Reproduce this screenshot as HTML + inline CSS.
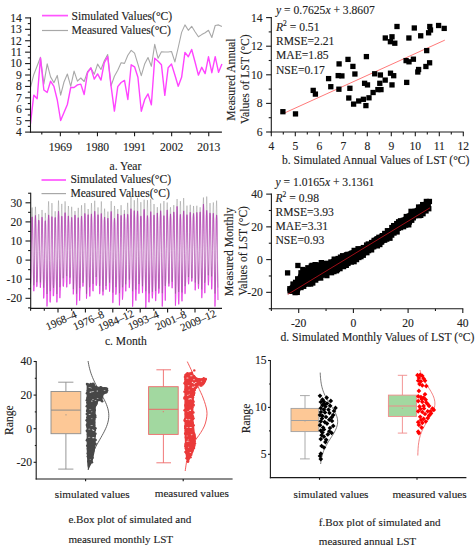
<!DOCTYPE html>
<html><head><meta charset="utf-8"><title>LST figure</title>
<style>
html,body{margin:0;padding:0;background:#fff;}
body{width:475px;height:550px;overflow:hidden;}
svg{display:block;font-family:"Liberation Serif",serif;fill:#1a1a1a;}
text{fill:#222;stroke:#222;stroke-width:0.12px;}
</style></head><body>
<svg width="475" height="550" viewBox="0 0 475 550">
<rect width="475" height="550" fill="#fff"/>
<polyline points="30.4,87.8 33.76,74.7 37.12,66 40.48,57.3 43.84,84.2 47.2,63.8 50.56,76.9 53.92,82.7 57.28,75.4 60.64,95.1 64,82 67.36,74 70.72,86.3 74.08,71.1 77.44,81.2 80.8,78 84.16,81.5 87.52,71.6 90.88,67.9 94.24,74.3 97.6,64.1 100.96,69.5 104.32,60.7 107.68,54.5 111.04,85.9 114.4,76.3 117.76,70.2 121.12,62.7 124.48,63.4 127.84,55.2 131.2,50.4 134.56,53.2 137.92,64.1 141.28,75.7 144.64,64.1 148,57.5 151.36,66.3 154.72,44.4 158.08,58.3 161.44,51.7 164.8,52 168.16,52 171.52,51.5 174.88,61.9 178.24,47.5 181.6,32.4 184.96,24.9 188.32,30.3 191.68,26.3 195.04,31.7 198.4,36.8 201.76,34.6 205.12,32.7 208.48,30.3 211.84,37.5 215.2,25.5 218.56,24.9 221.92,26.6" fill="none" stroke="#a8a8a8" stroke-width="1.1" stroke-linejoin="round"/>
<polyline points="30.4,124.1 33.76,95.1 37.12,98.7 40.48,58 43.84,90 47.2,92.4 50.56,81.2 53.92,86.3 57.28,100 60.64,120.5 64,112.5 67.36,104.5 70.72,87.5 74.08,87.5 77.44,84.9 80.8,84.1 84.16,94.5 87.52,72.9 90.88,67.9 94.24,79.1 97.6,73.9 100.96,80.1 104.32,62.7 107.68,56.6 111.04,85.9 114.4,111.1 117.76,86.6 121.12,82.5 124.48,80.4 127.84,99.5 131.2,64.8 134.56,66.8 137.92,77.2 141.28,111.3 144.64,99.7 148,93.9 151.36,104.8 154.72,58.3 158.08,61.2 161.44,64.8 164.8,95.3 168.16,67.7 171.52,64.1 174.88,75 178.24,86.2 181.6,77.3 184.96,52.4 188.32,56.7 191.68,49.5 195.04,62 198.4,75.1 201.76,67.3 205.12,73.6 208.48,56.8 211.84,72.7 215.2,56.6 218.56,72.3 221.92,63.9" fill="none" stroke="#ff44ff" stroke-width="1.4" stroke-linejoin="round"/>
<line x1="30.5" y1="17.35" x2="30.5" y2="132.65" stroke="#1a1a1a" stroke-width="1.1"/>
<line x1="29.95" y1="132.1" x2="221.9" y2="132.1" stroke="#1a1a1a" stroke-width="1.1"/>
<line x1="25.1" y1="132.1" x2="30.5" y2="132.1" stroke="#1a1a1a" stroke-width="1.1"/>
<text x="21.9" y="136" font-size="11.6" text-anchor="end">4</text>
<line x1="27.8" y1="126.39" x2="30.5" y2="126.39" stroke="#1a1a1a" stroke-width="1.1"/>
<line x1="25.1" y1="120.68" x2="30.5" y2="120.68" stroke="#1a1a1a" stroke-width="1.1"/>
<text x="21.9" y="124.58" font-size="11.6" text-anchor="end">5</text>
<line x1="27.8" y1="114.97" x2="30.5" y2="114.97" stroke="#1a1a1a" stroke-width="1.1"/>
<line x1="25.1" y1="109.26" x2="30.5" y2="109.26" stroke="#1a1a1a" stroke-width="1.1"/>
<text x="21.9" y="113.16" font-size="11.6" text-anchor="end">6</text>
<line x1="27.8" y1="103.55" x2="30.5" y2="103.55" stroke="#1a1a1a" stroke-width="1.1"/>
<line x1="25.1" y1="97.84" x2="30.5" y2="97.84" stroke="#1a1a1a" stroke-width="1.1"/>
<text x="21.9" y="101.74" font-size="11.6" text-anchor="end">7</text>
<line x1="27.8" y1="92.13" x2="30.5" y2="92.13" stroke="#1a1a1a" stroke-width="1.1"/>
<line x1="25.1" y1="86.42" x2="30.5" y2="86.42" stroke="#1a1a1a" stroke-width="1.1"/>
<text x="21.9" y="90.32" font-size="11.6" text-anchor="end">8</text>
<line x1="27.8" y1="80.71" x2="30.5" y2="80.71" stroke="#1a1a1a" stroke-width="1.1"/>
<line x1="25.1" y1="75" x2="30.5" y2="75" stroke="#1a1a1a" stroke-width="1.1"/>
<text x="21.9" y="78.9" font-size="11.6" text-anchor="end">9</text>
<line x1="27.8" y1="69.29" x2="30.5" y2="69.29" stroke="#1a1a1a" stroke-width="1.1"/>
<line x1="25.1" y1="63.58" x2="30.5" y2="63.58" stroke="#1a1a1a" stroke-width="1.1"/>
<text x="21.9" y="67.48" font-size="11.6" text-anchor="end">10</text>
<line x1="27.8" y1="57.87" x2="30.5" y2="57.87" stroke="#1a1a1a" stroke-width="1.1"/>
<line x1="25.1" y1="52.16" x2="30.5" y2="52.16" stroke="#1a1a1a" stroke-width="1.1"/>
<text x="21.9" y="56.06" font-size="11.6" text-anchor="end">11</text>
<line x1="27.8" y1="46.45" x2="30.5" y2="46.45" stroke="#1a1a1a" stroke-width="1.1"/>
<line x1="25.1" y1="40.74" x2="30.5" y2="40.74" stroke="#1a1a1a" stroke-width="1.1"/>
<text x="21.9" y="44.64" font-size="11.6" text-anchor="end">12</text>
<line x1="27.8" y1="35.03" x2="30.5" y2="35.03" stroke="#1a1a1a" stroke-width="1.1"/>
<line x1="25.1" y1="29.32" x2="30.5" y2="29.32" stroke="#1a1a1a" stroke-width="1.1"/>
<text x="21.9" y="33.22" font-size="11.6" text-anchor="end">13</text>
<line x1="27.8" y1="23.61" x2="30.5" y2="23.61" stroke="#1a1a1a" stroke-width="1.1"/>
<line x1="25.1" y1="17.9" x2="30.5" y2="17.9" stroke="#1a1a1a" stroke-width="1.1"/>
<text x="21.9" y="21.8" font-size="11.6" text-anchor="end">14</text>
<line x1="41.8" y1="132.1" x2="41.8" y2="134.5" stroke="#1a1a1a" stroke-width="1.1"/>
<line x1="60.35" y1="132.1" x2="60.35" y2="136.3" stroke="#1a1a1a" stroke-width="1.1"/>
<line x1="78.9" y1="132.1" x2="78.9" y2="134.5" stroke="#1a1a1a" stroke-width="1.1"/>
<line x1="97.45" y1="132.1" x2="97.45" y2="136.3" stroke="#1a1a1a" stroke-width="1.1"/>
<line x1="116" y1="132.1" x2="116" y2="134.5" stroke="#1a1a1a" stroke-width="1.1"/>
<line x1="134.55" y1="132.1" x2="134.55" y2="136.3" stroke="#1a1a1a" stroke-width="1.1"/>
<line x1="153.1" y1="132.1" x2="153.1" y2="134.5" stroke="#1a1a1a" stroke-width="1.1"/>
<line x1="171.65" y1="132.1" x2="171.65" y2="136.3" stroke="#1a1a1a" stroke-width="1.1"/>
<line x1="190.2" y1="132.1" x2="190.2" y2="134.5" stroke="#1a1a1a" stroke-width="1.1"/>
<line x1="208.75" y1="132.1" x2="208.75" y2="136.3" stroke="#1a1a1a" stroke-width="1.1"/>
<text x="60.35" y="151" font-size="11.6" text-anchor="middle">1969</text>
<text x="97.45" y="151" font-size="11.6" text-anchor="middle">1980</text>
<text x="134.55" y="151" font-size="11.6" text-anchor="middle">1991</text>
<text x="171.65" y="151" font-size="11.6" text-anchor="middle">2002</text>
<text x="208.75" y="151" font-size="11.6" text-anchor="middle">2013</text>
<text x="109.5" y="169.8" font-size="11.6" text-anchor="start">a. Year</text>
<line x1="42" y1="15.6" x2="68" y2="15.6" stroke="#ff55ff" stroke-width="1.7"/>
<line x1="42" y1="30.5" x2="68" y2="30.5" stroke="#a8a8a8" stroke-width="1.2"/>
<text x="71.5" y="19.8" font-size="11.6" text-anchor="start">Simulated Values(&#176;C)</text>
<text x="71.5" y="34.3" font-size="11.6" text-anchor="start">Measured Values(&#176;C)</text>
<line x1="283.3" y1="113.53" x2="444.82" y2="40.14" stroke="#ff6a6a" stroke-width="0.9"/>
<rect x="280.25" y="109.05" width="5.3" height="5.3" fill="#000"/>
<rect x="292.85" y="111.25" width="5.3" height="5.3" fill="#000"/>
<rect x="310.55" y="87.75" width="5.3" height="5.3" fill="#000"/>
<rect x="312.75" y="91.45" width="5.3" height="5.3" fill="#000"/>
<rect x="325.95" y="75.95" width="5.3" height="5.3" fill="#000"/>
<rect x="328.15" y="84.05" width="5.3" height="5.3" fill="#000"/>
<rect x="335.55" y="72.95" width="5.3" height="5.3" fill="#000"/>
<rect x="339.25" y="73.25" width="5.3" height="5.3" fill="#000"/>
<rect x="336.25" y="86.55" width="5.3" height="5.3" fill="#000"/>
<rect x="336.45" y="61.25" width="5.3" height="5.3" fill="#000"/>
<rect x="345.35" y="56.75" width="5.3" height="5.3" fill="#000"/>
<rect x="350.25" y="63.75" width="5.3" height="5.3" fill="#000"/>
<rect x="363.75" y="53.95" width="5.3" height="5.3" fill="#000"/>
<rect x="352.25" y="71.35" width="5.3" height="5.3" fill="#000"/>
<rect x="347.25" y="85.65" width="5.3" height="5.3" fill="#000"/>
<rect x="346.15" y="95.35" width="5.3" height="5.3" fill="#000"/>
<rect x="350.95" y="101.45" width="5.3" height="5.3" fill="#000"/>
<rect x="356.05" y="98.35" width="5.3" height="5.3" fill="#000"/>
<rect x="360.75" y="96.65" width="5.3" height="5.3" fill="#000"/>
<rect x="363.25" y="102.95" width="5.3" height="5.3" fill="#000"/>
<rect x="366.35" y="95.15" width="5.3" height="5.3" fill="#000"/>
<rect x="370.45" y="89.85" width="5.3" height="5.3" fill="#000"/>
<rect x="375.25" y="86.95" width="5.3" height="5.3" fill="#000"/>
<rect x="378.35" y="86.95" width="5.3" height="5.3" fill="#000"/>
<rect x="361.95" y="80.65" width="5.3" height="5.3" fill="#000"/>
<rect x="364.85" y="82.25" width="5.3" height="5.3" fill="#000"/>
<rect x="372.05" y="71.15" width="5.3" height="5.3" fill="#000"/>
<rect x="377.75" y="72.35" width="5.3" height="5.3" fill="#000"/>
<rect x="382.55" y="77.45" width="5.3" height="5.3" fill="#000"/>
<rect x="377.15" y="80.65" width="5.3" height="5.3" fill="#000"/>
<rect x="387.85" y="70.55" width="5.3" height="5.3" fill="#000"/>
<rect x="391.05" y="73.05" width="5.3" height="5.3" fill="#000"/>
<rect x="389.35" y="82.25" width="5.3" height="5.3" fill="#000"/>
<rect x="404.05" y="79.75" width="5.3" height="5.3" fill="#000"/>
<rect x="415.15" y="69.35" width="5.3" height="5.3" fill="#000"/>
<rect x="415.95" y="66.85" width="5.3" height="5.3" fill="#000"/>
<rect x="423.25" y="63.85" width="5.3" height="5.3" fill="#000"/>
<rect x="426.95" y="60.15" width="5.3" height="5.3" fill="#000"/>
<rect x="424.05" y="47.95" width="5.3" height="5.3" fill="#000"/>
<rect x="403.45" y="57.95" width="5.3" height="5.3" fill="#000"/>
<rect x="406.35" y="59.15" width="5.3" height="5.3" fill="#000"/>
<rect x="410.75" y="56.55" width="5.3" height="5.3" fill="#000"/>
<rect x="394.35" y="23.85" width="5.3" height="5.3" fill="#000"/>
<rect x="382.65" y="35.35" width="5.3" height="5.3" fill="#000"/>
<rect x="389.35" y="34.15" width="5.3" height="5.3" fill="#000"/>
<rect x="387.75" y="39.05" width="5.3" height="5.3" fill="#000"/>
<rect x="392.15" y="40.55" width="5.3" height="5.3" fill="#000"/>
<rect x="411.65" y="25.35" width="5.3" height="5.3" fill="#000"/>
<rect x="406.25" y="35.35" width="5.3" height="5.3" fill="#000"/>
<rect x="418.05" y="33.15" width="5.3" height="5.3" fill="#000"/>
<rect x="427.15" y="23.85" width="5.3" height="5.3" fill="#000"/>
<rect x="425.95" y="30.15" width="5.3" height="5.3" fill="#000"/>
<rect x="427.85" y="27.35" width="5.3" height="5.3" fill="#000"/>
<rect x="435.95" y="22.85" width="5.3" height="5.3" fill="#000"/>
<rect x="441.55" y="25.75" width="5.3" height="5.3" fill="#000"/>
<line x1="271.3" y1="17.05" x2="271.3" y2="132.55" stroke="#1a1a1a" stroke-width="1.1"/>
<line x1="270.75" y1="132" x2="463.8" y2="132" stroke="#1a1a1a" stroke-width="1.1"/>
<line x1="266.1" y1="132" x2="271.3" y2="132" stroke="#1a1a1a" stroke-width="1.1"/>
<text x="262.6" y="135.9" font-size="11.6" text-anchor="end">6</text>
<line x1="268.7" y1="117.7" x2="271.3" y2="117.7" stroke="#1a1a1a" stroke-width="1.1"/>
<line x1="266.1" y1="103.4" x2="271.3" y2="103.4" stroke="#1a1a1a" stroke-width="1.1"/>
<text x="262.6" y="107.3" font-size="11.6" text-anchor="end">8</text>
<line x1="268.7" y1="89.1" x2="271.3" y2="89.1" stroke="#1a1a1a" stroke-width="1.1"/>
<line x1="266.1" y1="74.8" x2="271.3" y2="74.8" stroke="#1a1a1a" stroke-width="1.1"/>
<text x="262.6" y="78.7" font-size="11.6" text-anchor="end">10</text>
<line x1="268.7" y1="60.5" x2="271.3" y2="60.5" stroke="#1a1a1a" stroke-width="1.1"/>
<line x1="266.1" y1="46.2" x2="271.3" y2="46.2" stroke="#1a1a1a" stroke-width="1.1"/>
<text x="262.6" y="50.1" font-size="11.6" text-anchor="end">12</text>
<line x1="268.7" y1="31.9" x2="271.3" y2="31.9" stroke="#1a1a1a" stroke-width="1.1"/>
<line x1="266.1" y1="17.6" x2="271.3" y2="17.6" stroke="#1a1a1a" stroke-width="1.1"/>
<text x="262.6" y="21.5" font-size="11.6" text-anchor="end">14</text>
<line x1="271.3" y1="132" x2="271.3" y2="136.2" stroke="#1a1a1a" stroke-width="1.1"/>
<text x="271.3" y="150.3" font-size="11.6" text-anchor="middle">4</text>
<line x1="283.3" y1="132" x2="283.3" y2="134.4" stroke="#1a1a1a" stroke-width="1.1"/>
<line x1="295.3" y1="132" x2="295.3" y2="136.2" stroke="#1a1a1a" stroke-width="1.1"/>
<text x="295.3" y="150.3" font-size="11.6" text-anchor="middle">5</text>
<line x1="307.3" y1="132" x2="307.3" y2="134.4" stroke="#1a1a1a" stroke-width="1.1"/>
<line x1="319.3" y1="132" x2="319.3" y2="136.2" stroke="#1a1a1a" stroke-width="1.1"/>
<text x="319.3" y="150.3" font-size="11.6" text-anchor="middle">6</text>
<line x1="331.3" y1="132" x2="331.3" y2="134.4" stroke="#1a1a1a" stroke-width="1.1"/>
<line x1="343.3" y1="132" x2="343.3" y2="136.2" stroke="#1a1a1a" stroke-width="1.1"/>
<text x="343.3" y="150.3" font-size="11.6" text-anchor="middle">7</text>
<line x1="355.3" y1="132" x2="355.3" y2="134.4" stroke="#1a1a1a" stroke-width="1.1"/>
<line x1="367.3" y1="132" x2="367.3" y2="136.2" stroke="#1a1a1a" stroke-width="1.1"/>
<text x="367.3" y="150.3" font-size="11.6" text-anchor="middle">8</text>
<line x1="379.3" y1="132" x2="379.3" y2="134.4" stroke="#1a1a1a" stroke-width="1.1"/>
<line x1="391.3" y1="132" x2="391.3" y2="136.2" stroke="#1a1a1a" stroke-width="1.1"/>
<text x="391.3" y="150.3" font-size="11.6" text-anchor="middle">9</text>
<line x1="403.3" y1="132" x2="403.3" y2="134.4" stroke="#1a1a1a" stroke-width="1.1"/>
<line x1="415.3" y1="132" x2="415.3" y2="136.2" stroke="#1a1a1a" stroke-width="1.1"/>
<text x="415.3" y="150.3" font-size="11.6" text-anchor="middle">10</text>
<line x1="427.3" y1="132" x2="427.3" y2="134.4" stroke="#1a1a1a" stroke-width="1.1"/>
<line x1="439.3" y1="132" x2="439.3" y2="136.2" stroke="#1a1a1a" stroke-width="1.1"/>
<text x="439.3" y="150.3" font-size="11.6" text-anchor="middle">11</text>
<line x1="451.3" y1="132" x2="451.3" y2="134.4" stroke="#1a1a1a" stroke-width="1.1"/>
<line x1="463.3" y1="132" x2="463.3" y2="136.2" stroke="#1a1a1a" stroke-width="1.1"/>
<text x="463.3" y="150.3" font-size="11.6" text-anchor="middle">12</text>
<text x="282" y="163.6" font-size="11.6" text-anchor="start">b. Simulated Annual Values of LST (&#176;C)</text>
<text transform="translate(234.6,79.7) rotate(-90)" font-size="11.6" text-anchor="middle">Measured Annual</text>
<text transform="translate(249.0,79.2) rotate(-90)" font-size="11.6" text-anchor="middle">Values of LST (&#176;C)</text>
<text x="276" y="14.3" font-size="11.6"><tspan font-style="italic">y</tspan> = 0.7625<tspan font-style="italic">x</tspan> + 3.8607</text>
<text x="276" y="30.8" font-size="11.6"><tspan font-style="italic">R</tspan><tspan font-size="7.5" dy="-4.5">2</tspan><tspan dy="4.5"> = 0.51</tspan></text>
<text x="276" y="44.6" font-size="11.6">RMSE=2.21</text>
<text x="276" y="59.2" font-size="11.6">MAE=1.85</text>
<text x="276" y="73.6" font-size="11.6">NSE=0.17</text>
<linearGradient id="cgrad" gradientUnits="userSpaceOnUse" x1="0" y1="205" x2="0" y2="305"><stop offset="0" stop-color="#c828c8" stop-opacity="0.5"/><stop offset="0.12" stop-color="#c828c8" stop-opacity="0.55"/><stop offset="0.3" stop-color="#c828c8" stop-opacity="0.25"/><stop offset="0.45" stop-color="#c828c8" stop-opacity="0"/><stop offset="0.55" stop-color="#c828c8" stop-opacity="0.05"/><stop offset="0.72" stop-color="#c828c8" stop-opacity="0.45"/><stop offset="0.85" stop-color="#e020e0" stop-opacity="0.5"/><stop offset="1" stop-color="#e020e0" stop-opacity="0.4"/></linearGradient>
<polyline points="30.5,283.81 30.77,278.07 31.05,267.75 31.32,251.42 31.6,233.23 31.87,220.39 32.15,217.01 32.42,222.91 32.7,233.74 32.97,251.11 33.24,267.94 33.52,278.65 33.79,291.05 34.07,286.47 34.34,274.25 34.62,255.45 34.89,235.1 35.17,221.03 35.44,215.63 35.72,223.61 35.99,234.66 36.26,253.33 36.54,274.99 36.81,286.66 37.09,283.15 37.36,276.83 37.64,266.1 37.91,251.58 38.19,236.11 38.46,224.7 38.73,220.21 39.01,222.08 39.28,235.58 39.56,251.52 39.83,265.2 40.11,278.96 40.38,287.57 40.66,282.57 40.93,269.77 41.21,251.03 41.48,235.26 41.75,224.05 42.03,217.29 42.3,223.85 42.58,234.76 42.85,253.36 43.13,268.21 43.4,282.02 43.68,298.27 43.95,294.26 44.23,280.1 44.5,258.81 44.77,238.86 45.05,223.45 45.32,220.9 45.6,224.89 45.87,240.2 46.15,258.77 46.42,279.2 46.7,291.8 46.97,306.3 47.24,301.13 47.52,284.01 47.79,260.19 48.07,238.58 48.34,220.66 48.62,215.1 48.89,220.61 49.17,238.15 49.44,260.58 49.72,283.83 49.99,301.33 50.26,302.27 50.54,296.51 50.81,281.74 51.09,261.42 51.36,240.18 51.64,223.13 51.91,216.73 52.19,222.73 52.46,239.49 52.73,260.76 53.01,282.47 53.28,295.99 53.56,295.6 53.83,290.04 54.11,276.38 54.38,257.84 54.66,235.79 54.93,221.61 55.2,217.6 55.48,222.41 55.75,237.7 56.03,256.34 56.3,277.2 56.58,289.73 56.85,302.19 57.13,298.07 57.4,281.69 57.68,258.2 57.95,235.94 58.22,218 58.5,211.24 58.77,216.43 59.05,235.47 59.32,258.38 59.6,280.32 59.87,297.94 60.15,291.21 60.42,288.35 60.7,272.72 60.97,254.83 61.24,234.73 61.52,222.08 61.79,216.37 62.07,222.4 62.34,236.88 62.62,253.72 62.89,272.73 63.17,285.87 63.44,286.37 63.71,281.25 63.99,267.03 64.26,251.24 64.54,233.08 64.81,219.53 65.09,212.81 65.36,219.6 65.64,231.06 65.91,249.22 66.19,267.87 66.46,282.33 66.73,287.14 67.01,282.92 67.28,268.29 67.56,250.64 67.83,233.83 68.11,221.78 68.38,216.09 68.66,222.31 68.93,233.86 69.2,250.79 69.48,269.55 69.75,283.88 70.03,283.07 70.3,277.2 70.58,266.87 70.85,249.39 71.13,234.32 71.4,222.53 71.68,217.47 71.95,221.61 72.22,232.83 72.5,249.04 72.77,266.28 73.05,279.35 73.32,294.15 73.6,289.23 73.87,274.68 74.15,256.3 74.42,235 74.69,222.21 74.97,215.13 75.24,220.13 75.52,237.07 75.79,254.79 76.07,276.25 76.34,289.56 76.62,304.88 76.89,300.38 77.17,284.24 77.44,263.13 77.71,241.32 77.99,223.81 78.26,217.84 78.54,224.93 78.81,239.08 79.09,260.88 79.36,285.59 79.64,300.52 79.91,291.61 80.18,288.14 80.46,272.65 80.73,255.47 81.01,235.65 81.28,220.7 81.56,216.22 81.83,221.5 82.11,235.39 82.38,253.06 82.66,274.12 82.93,286.42 83.2,282.67 83.48,278.15 83.75,266.61 84.03,250.27 84.3,230.99 84.58,219.53 84.85,213.55 85.13,218.22 85.4,231.31 85.67,247.24 85.95,265.51 86.22,277.36 86.5,298.53 86.77,293.34 87.05,277.23 87.32,255.18 87.6,234.33 87.87,219.69 88.15,214.78 88.42,222.03 88.69,236.88 88.97,257.62 89.24,277.04 89.52,291.22 89.79,296.31 90.07,290.9 90.34,276.39 90.62,256.61 90.89,235.86 91.16,220.09 91.44,213.98 91.71,222.15 91.99,235.74 92.26,254.12 92.54,275.54 92.81,289.6 93.09,291.1 93.36,284.93 93.64,271.04 93.91,251.68 94.18,231.96 94.46,217.21 94.73,211.36 95.01,217.35 95.28,233.39 95.56,250.67 95.83,271.3 96.11,284.45 96.38,285.49 96.65,283.36 96.93,269.51 97.2,250.47 97.48,232.77 97.75,221.01 98.03,214.78 98.3,220.14 98.58,233.78 98.85,250.1 99.12,270.11 99.4,281.01 99.67,293.83 99.95,289.45 100.22,273.44 100.5,254.31 100.77,235.21 101.05,220.55 101.32,213.67 101.6,218.69 101.87,233.14 102.14,254.96 102.42,275.47 102.69,288.23 102.97,295.19 103.24,289.23 103.52,274.73 103.79,255.22 104.07,236.87 104.34,220.46 104.62,217.24 104.89,222.2 105.16,236.63 105.44,257.08 105.71,275.08 105.99,289.49 106.26,283.7 106.54,277.94 106.81,266.19 107.09,250.26 107.36,234.96 107.63,220.73 107.91,218.24 108.18,222.54 108.46,233.23 108.73,251.26 109.01,267.06 109.28,279.68 109.56,291.45 109.83,286.34 110.11,271.58 110.38,251.59 110.65,231.15 110.93,217.8 111.2,211.57 111.48,218.12 111.75,231.82 112.03,252.99 112.3,273.56 112.58,287.98 112.85,302.74 113.12,295.52 113.4,281.83 113.67,260.39 113.95,239.24 114.22,222.78 114.5,218.41 114.77,224.07 115.05,239.01 115.32,258.45 115.6,281.14 115.87,294.51 116.14,292.05 116.42,287.64 116.69,274.08 116.97,253.33 117.24,235.73 117.52,220.29 117.79,214 118.07,220.95 118.34,234.78 118.61,252.68 118.89,272.97 119.16,288.44 119.44,305.27 119.71,297.49 119.99,282.25 120.26,258.99 120.54,237.48 120.81,221.72 121.09,215.49 121.36,221.61 121.63,238.44 121.91,261.43 122.18,282.77 122.46,299.45 122.73,295.9 123.01,289.36 123.28,277.06 123.56,254.71 123.83,234.94 124.1,221.83 124.38,214 124.65,219.98 124.93,235.51 125.2,255.97 125.48,275.9 125.75,291.11 126.03,281.37 126.3,278.85 126.58,264.58 126.85,248.85 127.12,229.59 127.4,219.24 127.67,214.41 127.95,218.27 128.22,229.33 128.5,247.83 128.77,264.3 129.05,278.1 129.32,287.66 129.59,283.26 129.87,267.95 130.14,249.22 130.42,228.39 130.69,214.6 130.97,208.88 131.24,214.79 131.52,229.27 131.79,248.19 132.06,268.37 132.34,281.72 132.61,306.5 132.89,300.11 133.16,283.64 133.44,260.11 133.71,235.37 133.99,218.12 134.26,210.76 134.54,217.33 134.81,236.65 135.08,259.64 135.36,283.28 135.63,298.68 135.91,300.49 136.18,293.17 136.46,277.19 136.73,256.52 137.01,232.7 137.28,216.53 137.56,211.17 137.83,216.91 138.1,233.12 138.38,256.45 138.65,278.56 138.93,293.59 139.2,286.72 139.48,282.23 139.75,270.07 140.03,250.27 140.3,233.07 140.57,218.47 140.85,216.15 141.12,218.48 141.4,232.85 141.67,252.1 141.95,271.18 142.22,283.47 142.5,292.78 142.77,285.11 143.05,270.55 143.32,250.38 143.59,230.07 143.87,213.7 144.14,209.53 144.42,215.06 144.69,227.84 144.97,250.92 145.24,271.59 145.52,285.16 145.79,307.62 146.06,299.93 146.34,285.28 146.61,259.86 146.89,238.85 147.16,221.36 147.44,215.69 147.71,219.4 147.99,237.51 148.26,259.99 148.54,285.58 148.81,301.96 149.08,302.23 149.36,295.57 149.63,279.63 149.91,257.27 150.18,233.33 150.46,217.44 150.73,211.71 151.01,218.55 151.28,233.71 151.55,256.03 151.83,277.22 152.1,294.89 152.38,298.16 152.65,292.86 152.93,277.1 153.2,255.77 153.48,238.15 153.75,221.12 154.03,215.15 154.3,222.87 154.57,236.28 154.85,256.5 155.12,277.19 155.4,291.02 155.67,300.85 155.95,293.43 156.22,277.58 156.5,256.92 156.77,235.07 157.04,220.94 157.32,213.08 157.59,218.38 157.87,236.38 158.14,256.9 158.42,278.65 158.69,293.35 158.97,292.16 159.24,286.78 159.52,271.48 159.79,251.27 160.06,230.54 160.34,217.62 160.61,210.92 160.89,215.99 161.16,231.8 161.44,252.41 161.71,272.96 161.99,285.42 162.26,306.34 162.53,300.19 162.81,284.84 163.08,260.02 163.36,239.06 163.63,221.54 163.91,215.76 164.18,222.11 164.46,236.76 164.73,262.23 165.01,282.96 165.28,300.44 165.55,284.08 165.83,279.75 166.1,266.64 166.38,248.67 166.65,230.48 166.93,216.98 167.2,210.06 167.48,215.29 167.75,229.96 168.02,247.06 168.3,266.37 168.57,279.85 168.85,286.3 169.12,281.9 169.4,268.01 169.67,251.41 169.95,233.75 170.22,219.55 170.5,214.03 170.77,219.34 171.04,233.88 171.32,250.57 171.59,269.82 171.87,282.58 172.14,288.07 172.42,282.66 172.69,267.5 172.97,250.47 173.24,231.92 173.51,218.75 173.79,212.06 174.06,215.84 174.34,230.53 174.61,250.7 174.89,268.11 175.16,281.24 175.44,305.59 175.71,298.67 175.99,281.49 176.26,256.82 176.53,232.06 176.81,214.75 177.08,206.52 177.36,213.07 177.63,231.91 177.91,257.36 178.18,281.83 178.46,298.11 178.73,304.22 179,298.47 179.28,280.81 179.55,259.26 179.83,235.17 180.1,219.79 180.38,214.47 180.65,220.86 180.93,235.36 181.2,257.59 181.48,282.28 181.75,298.09 182.02,301.14 182.3,293.97 182.57,277.36 182.85,254.91 183.12,232.59 183.4,215.04 183.67,210.97 183.95,217.04 184.22,232.18 184.49,253.64 184.77,278.38 185.04,293.68 185.32,287.4 185.59,281.93 185.87,269.93 186.14,251.54 186.42,233.23 186.69,217.84 186.97,214.81 187.24,217.54 187.51,232.8 187.79,249.41 188.06,267.93 188.34,281.31 188.61,284.08 188.89,278.96 189.16,268.15 189.44,248.78 189.71,232.56 189.98,218.37 190.26,212.45 190.53,218.06 190.81,231.19 191.08,247.98 191.36,268.39 191.63,281.14 191.91,281.13 192.18,277.14 192.46,263.54 192.73,248.32 193,230.5 193.28,217.09 193.55,213.47 193.83,217.64 194.1,231.85 194.38,246.33 194.65,264.49 194.93,277.29 195.2,290.11 195.47,285.89 195.75,269.18 196.02,252.35 196.3,231.79 196.57,218.51 196.85,212.47 197.12,216.66 197.4,233.09 197.67,250.58 197.95,271.06 198.22,283.41 198.49,288.58 198.77,282.86 199.04,269.39 199.32,251.71 199.59,230.21 199.87,217.91 200.14,212.12 200.42,218.3 200.69,230.61 200.96,248.73 201.24,267.44 201.51,281.8 201.79,297.87 202.06,292.07 202.34,275.87 202.61,252.11 202.89,228.45 203.16,211.53 203.44,204.18 203.71,211.63 203.98,229.03 204.26,251.78 204.53,275.19 204.81,293.04 205.08,282.36 205.36,277.49 205.63,265.67 205.91,247.92 206.18,227.93 206.45,215.5 206.73,210.45 207,216.04 207.28,228.85 207.55,247.81 207.83,264.21 208.1,278.51 208.38,285.08 208.65,280.78 208.93,266.42 209.2,249.88 209.47,230.41 209.75,216.64 210.02,213.12 210.3,215.43 210.57,230.82 210.85,246.95 211.12,265.52 211.4,278.46 211.67,289.11 211.94,285.43 212.22,269.67 212.49,250.54 212.77,232.54 213.04,219.79 213.32,213.38 213.59,218.69 213.87,232.68 214.14,250.57 214.42,269.49 214.69,282.86 214.96,306.38 215.24,299.45 215.51,282.09 215.79,261 216.06,237.84 216.34,219.13 216.61,215.11 216.89,220.49 217.16,237.43 217.43,259.3 217.71,282.14 217.98,300.09" fill="none" stroke="#e030e0" stroke-width="0.55" stroke-linejoin="round"/>
<polyline points="30.5,283.81 30.77,278.07 31.05,267.75 31.32,251.42 31.6,233.23 31.87,220.39 32.15,217.01 32.42,222.91 32.7,233.74 32.97,251.11 33.24,267.94 33.52,278.65 33.79,291.05 34.07,286.47 34.34,274.25 34.62,255.45 34.89,235.1 35.17,221.03 35.44,215.63 35.72,223.61 35.99,234.66 36.26,253.33 36.54,274.99 36.81,286.66 37.09,283.15 37.36,276.83 37.64,266.1 37.91,251.58 38.19,236.11 38.46,224.7 38.73,220.21 39.01,222.08 39.28,235.58 39.56,251.52 39.83,265.2 40.11,278.96 40.38,287.57 40.66,282.57 40.93,269.77 41.21,251.03 41.48,235.26 41.75,224.05 42.03,217.29 42.3,223.85 42.58,234.76 42.85,253.36 43.13,268.21 43.4,282.02 43.68,298.27 43.95,294.26 44.23,280.1 44.5,258.81 44.77,238.86 45.05,223.45 45.32,220.9 45.6,224.89 45.87,240.2 46.15,258.77 46.42,279.2 46.7,291.8 46.97,306.3 47.24,301.13 47.52,284.01 47.79,260.19 48.07,238.58 48.34,220.66 48.62,215.1 48.89,220.61 49.17,238.15 49.44,260.58 49.72,283.83 49.99,301.33 50.26,302.27 50.54,296.51 50.81,281.74 51.09,261.42 51.36,240.18 51.64,223.13 51.91,216.73 52.19,222.73 52.46,239.49 52.73,260.76 53.01,282.47 53.28,295.99 53.56,295.6 53.83,290.04 54.11,276.38 54.38,257.84 54.66,235.79 54.93,221.61 55.2,217.6 55.48,222.41 55.75,237.7 56.03,256.34 56.3,277.2 56.58,289.73 56.85,302.19 57.13,298.07 57.4,281.69 57.68,258.2 57.95,235.94 58.22,218 58.5,211.24 58.77,216.43 59.05,235.47 59.32,258.38 59.6,280.32 59.87,297.94 60.15,291.21 60.42,288.35 60.7,272.72 60.97,254.83 61.24,234.73 61.52,222.08 61.79,216.37 62.07,222.4 62.34,236.88 62.62,253.72 62.89,272.73 63.17,285.87 63.44,286.37 63.71,281.25 63.99,267.03 64.26,251.24 64.54,233.08 64.81,219.53 65.09,212.81 65.36,219.6 65.64,231.06 65.91,249.22 66.19,267.87 66.46,282.33 66.73,287.14 67.01,282.92 67.28,268.29 67.56,250.64 67.83,233.83 68.11,221.78 68.38,216.09 68.66,222.31 68.93,233.86 69.2,250.79 69.48,269.55 69.75,283.88 70.03,283.07 70.3,277.2 70.58,266.87 70.85,249.39 71.13,234.32 71.4,222.53 71.68,217.47 71.95,221.61 72.22,232.83 72.5,249.04 72.77,266.28 73.05,279.35 73.32,294.15 73.6,289.23 73.87,274.68 74.15,256.3 74.42,235 74.69,222.21 74.97,215.13 75.24,220.13 75.52,237.07 75.79,254.79 76.07,276.25 76.34,289.56 76.62,304.88 76.89,300.38 77.17,284.24 77.44,263.13 77.71,241.32 77.99,223.81 78.26,217.84 78.54,224.93 78.81,239.08 79.09,260.88 79.36,285.59 79.64,300.52 79.91,291.61 80.18,288.14 80.46,272.65 80.73,255.47 81.01,235.65 81.28,220.7 81.56,216.22 81.83,221.5 82.11,235.39 82.38,253.06 82.66,274.12 82.93,286.42 83.2,282.67 83.48,278.15 83.75,266.61 84.03,250.27 84.3,230.99 84.58,219.53 84.85,213.55 85.13,218.22 85.4,231.31 85.67,247.24 85.95,265.51 86.22,277.36 86.5,298.53 86.77,293.34 87.05,277.23 87.32,255.18 87.6,234.33 87.87,219.69 88.15,214.78 88.42,222.03 88.69,236.88 88.97,257.62 89.24,277.04 89.52,291.22 89.79,296.31 90.07,290.9 90.34,276.39 90.62,256.61 90.89,235.86 91.16,220.09 91.44,213.98 91.71,222.15 91.99,235.74 92.26,254.12 92.54,275.54 92.81,289.6 93.09,291.1 93.36,284.93 93.64,271.04 93.91,251.68 94.18,231.96 94.46,217.21 94.73,211.36 95.01,217.35 95.28,233.39 95.56,250.67 95.83,271.3 96.11,284.45 96.38,285.49 96.65,283.36 96.93,269.51 97.2,250.47 97.48,232.77 97.75,221.01 98.03,214.78 98.3,220.14 98.58,233.78 98.85,250.1 99.12,270.11 99.4,281.01 99.67,293.83 99.95,289.45 100.22,273.44 100.5,254.31 100.77,235.21 101.05,220.55 101.32,213.67 101.6,218.69 101.87,233.14 102.14,254.96 102.42,275.47 102.69,288.23 102.97,295.19 103.24,289.23 103.52,274.73 103.79,255.22 104.07,236.87 104.34,220.46 104.62,217.24 104.89,222.2 105.16,236.63 105.44,257.08 105.71,275.08 105.99,289.49 106.26,283.7 106.54,277.94 106.81,266.19 107.09,250.26 107.36,234.96 107.63,220.73 107.91,218.24 108.18,222.54 108.46,233.23 108.73,251.26 109.01,267.06 109.28,279.68 109.56,291.45 109.83,286.34 110.11,271.58 110.38,251.59 110.65,231.15 110.93,217.8 111.2,211.57 111.48,218.12 111.75,231.82 112.03,252.99 112.3,273.56 112.58,287.98 112.85,302.74 113.12,295.52 113.4,281.83 113.67,260.39 113.95,239.24 114.22,222.78 114.5,218.41 114.77,224.07 115.05,239.01 115.32,258.45 115.6,281.14 115.87,294.51 116.14,292.05 116.42,287.64 116.69,274.08 116.97,253.33 117.24,235.73 117.52,220.29 117.79,214 118.07,220.95 118.34,234.78 118.61,252.68 118.89,272.97 119.16,288.44 119.44,305.27 119.71,297.49 119.99,282.25 120.26,258.99 120.54,237.48 120.81,221.72 121.09,215.49 121.36,221.61 121.63,238.44 121.91,261.43 122.18,282.77 122.46,299.45 122.73,295.9 123.01,289.36 123.28,277.06 123.56,254.71 123.83,234.94 124.1,221.83 124.38,214 124.65,219.98 124.93,235.51 125.2,255.97 125.48,275.9 125.75,291.11 126.03,281.37 126.3,278.85 126.58,264.58 126.85,248.85 127.12,229.59 127.4,219.24 127.67,214.41 127.95,218.27 128.22,229.33 128.5,247.83 128.77,264.3 129.05,278.1 129.32,287.66 129.59,283.26 129.87,267.95 130.14,249.22 130.42,228.39 130.69,214.6 130.97,208.88 131.24,214.79 131.52,229.27 131.79,248.19 132.06,268.37 132.34,281.72 132.61,306.5 132.89,300.11 133.16,283.64 133.44,260.11 133.71,235.37 133.99,218.12 134.26,210.76 134.54,217.33 134.81,236.65 135.08,259.64 135.36,283.28 135.63,298.68 135.91,300.49 136.18,293.17 136.46,277.19 136.73,256.52 137.01,232.7 137.28,216.53 137.56,211.17 137.83,216.91 138.1,233.12 138.38,256.45 138.65,278.56 138.93,293.59 139.2,286.72 139.48,282.23 139.75,270.07 140.03,250.27 140.3,233.07 140.57,218.47 140.85,216.15 141.12,218.48 141.4,232.85 141.67,252.1 141.95,271.18 142.22,283.47 142.5,292.78 142.77,285.11 143.05,270.55 143.32,250.38 143.59,230.07 143.87,213.7 144.14,209.53 144.42,215.06 144.69,227.84 144.97,250.92 145.24,271.59 145.52,285.16 145.79,307.62 146.06,299.93 146.34,285.28 146.61,259.86 146.89,238.85 147.16,221.36 147.44,215.69 147.71,219.4 147.99,237.51 148.26,259.99 148.54,285.58 148.81,301.96 149.08,302.23 149.36,295.57 149.63,279.63 149.91,257.27 150.18,233.33 150.46,217.44 150.73,211.71 151.01,218.55 151.28,233.71 151.55,256.03 151.83,277.22 152.1,294.89 152.38,298.16 152.65,292.86 152.93,277.1 153.2,255.77 153.48,238.15 153.75,221.12 154.03,215.15 154.3,222.87 154.57,236.28 154.85,256.5 155.12,277.19 155.4,291.02 155.67,300.85 155.95,293.43 156.22,277.58 156.5,256.92 156.77,235.07 157.04,220.94 157.32,213.08 157.59,218.38 157.87,236.38 158.14,256.9 158.42,278.65 158.69,293.35 158.97,292.16 159.24,286.78 159.52,271.48 159.79,251.27 160.06,230.54 160.34,217.62 160.61,210.92 160.89,215.99 161.16,231.8 161.44,252.41 161.71,272.96 161.99,285.42 162.26,306.34 162.53,300.19 162.81,284.84 163.08,260.02 163.36,239.06 163.63,221.54 163.91,215.76 164.18,222.11 164.46,236.76 164.73,262.23 165.01,282.96 165.28,300.44 165.55,284.08 165.83,279.75 166.1,266.64 166.38,248.67 166.65,230.48 166.93,216.98 167.2,210.06 167.48,215.29 167.75,229.96 168.02,247.06 168.3,266.37 168.57,279.85 168.85,286.3 169.12,281.9 169.4,268.01 169.67,251.41 169.95,233.75 170.22,219.55 170.5,214.03 170.77,219.34 171.04,233.88 171.32,250.57 171.59,269.82 171.87,282.58 172.14,288.07 172.42,282.66 172.69,267.5 172.97,250.47 173.24,231.92 173.51,218.75 173.79,212.06 174.06,215.84 174.34,230.53 174.61,250.7 174.89,268.11 175.16,281.24 175.44,305.59 175.71,298.67 175.99,281.49 176.26,256.82 176.53,232.06 176.81,214.75 177.08,206.52 177.36,213.07 177.63,231.91 177.91,257.36 178.18,281.83 178.46,298.11 178.73,304.22 179,298.47 179.28,280.81 179.55,259.26 179.83,235.17 180.1,219.79 180.38,214.47 180.65,220.86 180.93,235.36 181.2,257.59 181.48,282.28 181.75,298.09 182.02,301.14 182.3,293.97 182.57,277.36 182.85,254.91 183.12,232.59 183.4,215.04 183.67,210.97 183.95,217.04 184.22,232.18 184.49,253.64 184.77,278.38 185.04,293.68 185.32,287.4 185.59,281.93 185.87,269.93 186.14,251.54 186.42,233.23 186.69,217.84 186.97,214.81 187.24,217.54 187.51,232.8 187.79,249.41 188.06,267.93 188.34,281.31 188.61,284.08 188.89,278.96 189.16,268.15 189.44,248.78 189.71,232.56 189.98,218.37 190.26,212.45 190.53,218.06 190.81,231.19 191.08,247.98 191.36,268.39 191.63,281.14 191.91,281.13 192.18,277.14 192.46,263.54 192.73,248.32 193,230.5 193.28,217.09 193.55,213.47 193.83,217.64 194.1,231.85 194.38,246.33 194.65,264.49 194.93,277.29 195.2,290.11 195.47,285.89 195.75,269.18 196.02,252.35 196.3,231.79 196.57,218.51 196.85,212.47 197.12,216.66 197.4,233.09 197.67,250.58 197.95,271.06 198.22,283.41 198.49,288.58 198.77,282.86 199.04,269.39 199.32,251.71 199.59,230.21 199.87,217.91 200.14,212.12 200.42,218.3 200.69,230.61 200.96,248.73 201.24,267.44 201.51,281.8 201.79,297.87 202.06,292.07 202.34,275.87 202.61,252.11 202.89,228.45 203.16,211.53 203.44,204.18 203.71,211.63 203.98,229.03 204.26,251.78 204.53,275.19 204.81,293.04 205.08,282.36 205.36,277.49 205.63,265.67 205.91,247.92 206.18,227.93 206.45,215.5 206.73,210.45 207,216.04 207.28,228.85 207.55,247.81 207.83,264.21 208.1,278.51 208.38,285.08 208.65,280.78 208.93,266.42 209.2,249.88 209.47,230.41 209.75,216.64 210.02,213.12 210.3,215.43 210.57,230.82 210.85,246.95 211.12,265.52 211.4,278.46 211.67,289.11 211.94,285.43 212.22,269.67 212.49,250.54 212.77,232.54 213.04,219.79 213.32,213.38 213.59,218.69 213.87,232.68 214.14,250.57 214.42,269.49 214.69,282.86 214.96,306.38 215.24,299.45 215.51,282.09 215.79,261 216.06,237.84 216.34,219.13 216.61,215.11 216.89,220.49 217.16,237.43 217.43,259.3 217.71,282.14 217.98,300.09" fill="none" stroke="url(#cgrad)" stroke-width="1.1" stroke-linejoin="round"/>
<polyline points="30.5,273.78 30.77,268.5 31.05,257.92 31.32,239.89 31.6,225.75 31.87,210.86 32.15,207.51 32.42,213.76 32.7,225.69 32.97,241.62 33.24,257.43 33.52,268.35 33.79,285.27 34.07,280.87 34.34,267.89 34.62,248.65 34.89,227.91 35.17,213.52 35.44,206.82 35.72,214.06 35.99,227.7 36.26,247.65 36.54,266.67 36.81,282.21 37.09,277.83 37.36,273.24 37.64,260.88 37.91,244.25 38.19,228.75 38.46,217.89 38.73,214.13 39.01,216.72 39.28,228.01 39.56,245.28 39.83,260.28 40.11,270.76 40.38,282.43 40.66,277.57 40.93,264.89 41.21,246.86 41.48,227.75 41.75,216.8 42.03,209.97 42.3,216.69 42.58,227.53 42.85,245.44 43.13,264.43 43.4,279.09 43.68,287.68 43.95,281.36 44.23,269.16 44.5,248.54 44.77,231.58 45.05,218.11 45.32,212.9 45.6,218.55 45.87,231.31 46.15,250.75 46.42,267.14 46.7,281.55 46.97,294.03 47.24,286.57 47.52,270.54 47.79,248.71 48.07,224.11 48.34,207.58 48.62,201.35 48.89,208.75 49.17,223.61 49.44,247.66 49.72,268.88 49.99,286.14 50.26,291.2 50.54,284.73 50.81,267.88 51.09,246.2 51.36,224.71 51.64,209.78 51.91,203.09 52.19,207.67 52.46,226.52 52.73,246.42 53.01,269.92 53.28,284.49 53.56,287.88 53.83,284.21 54.11,269.98 54.38,249.71 54.66,228.91 54.93,214.16 55.2,211.26 55.48,216.22 55.75,230.24 56.03,249.72 56.3,268.38 56.58,284 56.85,294.04 57.13,286.61 57.4,268.79 57.68,248.13 57.95,223.86 58.22,207.19 58.5,200.55 58.77,207.03 59.05,224.33 59.32,248.52 59.6,269.15 59.87,287.16 60.15,283.86 60.42,278.43 60.7,266.28 60.97,244.81 61.24,225.61 61.52,209.47 61.79,203.92 62.07,210.16 62.34,224.56 62.62,244.76 62.89,266.02 63.17,278.29 63.44,275.33 63.71,268.95 63.99,255.63 64.26,236.19 64.54,217.76 64.81,205.67 65.09,201.32 65.36,205.12 65.64,217.64 65.91,235.77 66.19,254.22 66.46,269.96 66.73,276.17 67.01,269.9 67.28,259.17 67.56,239.53 67.83,223.42 68.11,210.86 68.38,206.01 68.66,209.54 68.93,223.95 69.2,240.77 69.48,257.7 69.75,270.84 70.03,277.7 70.3,273.96 70.58,261.78 70.85,241.7 71.13,224.32 71.4,213.05 71.68,206.77 71.95,212.56 72.22,226.38 72.5,244.16 72.77,261.6 73.05,273.8 73.32,289.12 73.6,283.15 73.87,268.6 74.15,249.09 74.42,228.74 74.69,216 74.97,210.98 75.24,214.25 75.52,230.77 75.79,250.57 76.07,268.67 76.34,283.34 76.62,293.75 76.89,286.03 77.17,270.55 77.44,250.98 77.71,229.63 77.99,212.46 78.26,207.84 78.54,213.41 78.81,226.71 79.09,250.9 79.36,269.74 79.64,286.01 79.91,288.16 80.18,283.8 80.46,268.78 80.73,248.8 81.01,228.54 81.28,210.97 81.56,205.23 81.83,212.18 82.11,227.04 82.38,246.84 82.66,267.24 82.93,282.81 83.2,272.84 83.48,269.19 83.75,255.17 84.03,238.04 84.3,219.75 84.58,205.97 84.85,203.14 85.13,207.12 85.4,220.46 85.67,237.17 85.95,254.28 86.22,269.33 86.5,293.8 86.77,285.79 87.05,271.86 87.32,250.99 87.6,230.08 87.87,216.66 88.15,209.02 88.42,214.05 88.69,230.59 88.97,251.21 89.24,273.23 89.52,287.27 89.79,286.23 90.07,282.86 90.34,267.68 90.62,244.89 90.89,223.84 91.16,211.34 91.44,203.09 91.71,208.73 91.99,225.13 92.26,246.45 92.54,264.95 92.81,281.47 93.09,283.91 93.36,278.31 93.64,261.93 93.91,243.07 94.18,222.49 94.46,207.44 94.73,200.76 95.01,208.33 95.28,221.05 95.56,241.96 95.83,263.14 96.11,276.96 96.38,272.45 96.65,270.54 96.93,257.38 97.2,241.91 97.48,225.55 97.75,211.66 98.03,207.39 98.3,212.26 98.58,224.72 98.85,239.66 99.12,258.31 99.4,268.82 99.67,286.07 99.95,281.64 100.22,264.73 100.5,244.86 100.77,221.76 101.05,208.41 101.32,201.41 101.6,207.75 101.87,224.21 102.14,243.97 102.42,266.61 102.69,281.2 102.97,291.52 103.24,284.79 103.52,271.04 103.79,250.56 104.07,229.39 104.34,212.59 104.62,208.62 104.89,214.21 105.16,229.42 105.44,249.77 105.71,270.72 105.99,285.94 106.26,275.35 106.54,270.84 106.81,261 107.09,242.89 107.36,229.16 107.63,215.02 107.91,211.58 108.18,215.49 108.46,228.66 108.73,242.96 109.01,258.86 109.28,271.8 109.56,282.68 109.83,276.44 110.11,261.08 110.38,240.44 110.65,220.8 110.93,205.66 111.2,201.08 111.48,207.38 111.75,219.73 112.03,242.64 112.3,262.25 112.58,275.51 112.85,292.7 113.12,285.47 113.4,271.94 113.67,249.78 113.95,226.42 114.22,211.95 114.5,205.93 114.77,210.32 115.05,226.94 115.32,248.98 115.6,269.56 115.87,287.2 116.14,280.5 116.42,275.36 116.69,260.96 116.97,245.58 117.24,227.17 117.52,213.24 117.79,209.08 118.07,215.19 118.34,227.82 118.61,244.73 118.89,260.96 119.16,275.3 119.44,293.2 119.71,287.79 119.99,270.45 120.26,247.94 120.54,226.65 120.81,210.09 121.09,205.16 121.36,210.73 121.63,225.97 121.91,247.19 122.18,270.93 122.46,287.16 122.73,287.35 123.01,282.97 123.28,269.24 123.56,249.76 123.83,229.17 124.1,212.97 124.38,210.03 124.65,215.11 124.93,228.92 125.2,249.45 125.48,268.36 125.75,284.36 126.03,277.27 126.3,272.28 126.58,256.8 126.85,239.15 127.12,219.98 127.4,207.5 127.67,202.83 127.95,207.97 128.22,220.49 128.5,238.4 128.77,256.45 129.05,271.56 129.32,279.66 129.59,273.3 129.87,259.35 130.14,238.08 130.42,217.07 130.69,204.44 130.97,196.79 131.24,203.85 131.52,219.16 131.79,236.62 132.06,257.49 132.34,273.74 132.61,291.26 132.89,286.6 133.16,268.41 133.44,245.91 133.71,224.25 133.99,208.53 134.26,200.22 134.54,207.5 134.81,223.45 135.08,245.94 135.36,269.63 135.63,287.45 135.91,289.6 136.18,284.31 136.46,266.17 136.73,244.99 137.01,222.14 137.28,203.98 137.56,197.96 137.83,203.99 138.1,220.62 138.38,243.55 138.65,265.69 138.93,284.04 139.2,279.23 139.48,275.35 139.75,260.7 140.03,241.47 140.3,222.4 140.57,208.57 140.85,202.14 141.12,207.31 141.4,221.42 141.67,241.26 141.95,262.05 142.22,275.07 142.5,286.27 142.77,277.87 143.05,262.74 143.32,241.84 143.59,220.94 143.87,205.02 144.14,199.71 144.42,206.14 144.69,223.22 144.97,243.39 145.24,265.2 145.52,278.33 145.79,291.24 146.06,286.54 146.34,270.39 146.61,245.74 146.89,223.11 147.16,207.53 147.44,200.17 147.71,208.35 147.99,225.08 148.26,248.33 148.54,269.07 148.81,285.23 149.08,293.42 149.36,285.61 149.63,269.96 149.91,244.91 150.18,222.22 150.46,203.39 150.73,199.08 151.01,203.26 151.28,222.51 151.55,246.66 151.83,269.17 152.1,286.16 152.38,291.79 152.65,287.31 152.93,271.39 153.2,246.8 153.48,226.27 153.75,210.3 154.03,204.01 154.3,209.77 154.57,226.58 154.85,247.43 155.12,270.41 155.4,286.07 155.67,290.97 155.95,284.33 156.22,270.75 156.5,249.94 156.77,228.24 157.04,212.68 157.32,207.16 157.59,213.95 157.87,229.71 158.14,249.29 158.42,270.66 158.69,286.51 158.97,288.58 159.24,281.27 159.52,267.22 159.79,247.08 160.06,226.14 160.34,211.04 160.61,203.45 160.89,211.34 161.16,225.55 161.44,244.38 161.71,266.53 161.99,280.15 162.26,293.19 162.53,287.82 162.81,268.5 163.08,246.75 163.36,225.67 163.63,209.2 163.91,201.05 164.18,208.91 164.46,224.58 164.73,247.76 165.01,271.37 165.28,285.93 165.55,271.13 165.83,267.84 166.1,254.6 166.38,238.42 166.65,220.38 166.93,207.82 167.2,202.49 167.48,208.56 167.75,221.58 168.02,237.94 168.3,256.23 168.57,268.1 168.85,283.59 169.12,277.3 169.4,265.3 169.67,244.87 169.95,224.02 170.22,210.22 170.5,207.23 170.77,211.84 171.04,226.26 171.32,245.94 171.59,264.07 171.87,279.09 172.14,281.74 172.42,277.62 172.69,264.15 172.97,244.71 173.24,226.56 173.51,210.8 173.79,205.14 174.06,211.81 174.34,223.88 174.61,243.66 174.89,261.92 175.16,278.09 175.44,293.61 175.71,286.39 175.99,268.73 176.26,247.14 176.53,222.8 176.81,205.22 177.08,199.06 177.36,206.93 177.63,222.97 177.91,246.19 178.18,269.25 178.46,286.41 178.73,292.06 179,286.52 179.28,268.26 179.55,246.5 179.83,222.99 180.1,206.68 180.38,201.16 180.65,206.04 180.93,224.18 181.2,248.15 181.48,269.63 181.75,286.86 182.02,292.44 182.3,287.11 182.57,268.78 182.85,245.52 183.12,221.55 183.4,205.99 183.67,198.05 183.95,204.82 184.22,221.99 184.49,244.91 184.77,268.86 185.04,286.12 185.32,282.36 185.59,277.52 185.87,264.04 186.14,243.43 186.42,225.55 186.69,211.8 186.97,205.62 187.24,213.1 187.51,225.37 187.79,244.39 188.06,263.48 188.34,276.91 188.61,277.06 188.89,271.57 189.16,259.37 189.44,241.38 189.71,223.61 189.98,207.28 190.26,204.81 190.53,208.88 190.81,222.44 191.08,239.07 191.36,258.34 191.63,273.89 191.91,278.16 192.18,273.87 192.46,259.08 192.73,242.45 193,223.32 193.28,211.29 193.55,205.99 193.83,212.03 194.1,225.33 194.38,242.88 194.65,261.28 194.93,274.76 195.2,282.5 195.47,277.99 195.75,263.28 196.02,244.59 196.3,223.03 196.57,209.46 196.85,205.73 197.12,210.9 197.4,224.39 197.67,243.24 197.95,261.35 198.22,275.15 198.49,284.07 198.77,276.99 199.04,264.03 199.32,246.26 199.59,228.17 199.87,212.04 200.14,207.26 200.42,212.07 200.69,225.86 200.96,246.6 201.24,264.38 201.51,278.53 201.79,289.47 202.06,283.4 202.34,265.06 202.61,244.78 202.89,220.04 203.16,203.38 203.44,197.47 203.71,205.33 203.98,221.24 204.26,245.04 204.53,266.59 204.81,282.84 205.08,280.06 205.36,275.22 205.63,258.76 205.91,239.63 206.18,217.12 206.45,204.49 206.73,196.54 207,203.11 207.28,218.05 207.55,238.59 207.83,258.31 208.1,274.35 208.38,275.33 208.65,269.85 208.93,256.93 209.2,238.58 209.47,220.67 209.75,206.46 210.02,203.05 210.3,207.05 210.57,220.24 210.85,239.27 211.12,258.11 211.4,270.18 211.67,276.4 211.94,271.63 212.22,259.47 212.49,239.65 212.77,219.2 213.04,206.94 213.32,202.42 213.59,205.39 213.87,221.11 214.14,238.43 214.42,258.56 214.69,271.85 214.96,293.54 215.24,285.38 215.51,268.49 215.79,245.37 216.06,223.61 216.34,206.58 216.61,200.63 216.89,208.75 217.16,224.57 217.43,247.54 217.71,269.12 217.98,287.58" fill="none" stroke="#606060" stroke-width="0.55" stroke-linejoin="round" stroke-opacity="0.55"/>
<line x1="30.7" y1="192.7" x2="30.7" y2="308.95" stroke="#1a1a1a" stroke-width="1.1"/>
<line x1="30.15" y1="308.4" x2="222" y2="308.4" stroke="#1a1a1a" stroke-width="1.1"/>
<line x1="28.1" y1="307.85" x2="30.7" y2="307.85" stroke="#1a1a1a" stroke-width="1.1"/>
<line x1="25.5" y1="298.3" x2="30.7" y2="298.3" stroke="#1a1a1a" stroke-width="1.1"/>
<text x="22" y="302.2" font-size="11.6" text-anchor="end">-20</text>
<line x1="28.1" y1="288.75" x2="30.7" y2="288.75" stroke="#1a1a1a" stroke-width="1.1"/>
<line x1="25.5" y1="279.2" x2="30.7" y2="279.2" stroke="#1a1a1a" stroke-width="1.1"/>
<text x="22" y="283.1" font-size="11.6" text-anchor="end">-10</text>
<line x1="28.1" y1="269.65" x2="30.7" y2="269.65" stroke="#1a1a1a" stroke-width="1.1"/>
<line x1="25.5" y1="260.1" x2="30.7" y2="260.1" stroke="#1a1a1a" stroke-width="1.1"/>
<text x="22" y="264" font-size="11.6" text-anchor="end">0</text>
<line x1="28.1" y1="250.55" x2="30.7" y2="250.55" stroke="#1a1a1a" stroke-width="1.1"/>
<line x1="25.5" y1="241" x2="30.7" y2="241" stroke="#1a1a1a" stroke-width="1.1"/>
<text x="22" y="244.9" font-size="11.6" text-anchor="end">10</text>
<line x1="28.1" y1="231.45" x2="30.7" y2="231.45" stroke="#1a1a1a" stroke-width="1.1"/>
<line x1="25.5" y1="221.9" x2="30.7" y2="221.9" stroke="#1a1a1a" stroke-width="1.1"/>
<text x="22" y="225.8" font-size="11.6" text-anchor="end">20</text>
<line x1="28.1" y1="212.35" x2="30.7" y2="212.35" stroke="#1a1a1a" stroke-width="1.1"/>
<line x1="25.5" y1="202.8" x2="30.7" y2="202.8" stroke="#1a1a1a" stroke-width="1.1"/>
<text x="22" y="206.7" font-size="11.6" text-anchor="end">30</text>
<line x1="28.1" y1="193.25" x2="30.7" y2="193.25" stroke="#1a1a1a" stroke-width="1.1"/>
<line x1="30.6" y1="308.4" x2="30.6" y2="310.8" stroke="#1a1a1a" stroke-width="1.1"/>
<line x1="44.3" y1="308.4" x2="44.3" y2="310.8" stroke="#1a1a1a" stroke-width="1.1"/>
<line x1="58" y1="308.4" x2="58" y2="312.6" stroke="#1a1a1a" stroke-width="1.1"/>
<line x1="71.7" y1="308.4" x2="71.7" y2="310.8" stroke="#1a1a1a" stroke-width="1.1"/>
<line x1="85.4" y1="308.4" x2="85.4" y2="312.6" stroke="#1a1a1a" stroke-width="1.1"/>
<line x1="99.1" y1="308.4" x2="99.1" y2="310.8" stroke="#1a1a1a" stroke-width="1.1"/>
<line x1="112.8" y1="308.4" x2="112.8" y2="312.6" stroke="#1a1a1a" stroke-width="1.1"/>
<line x1="126.5" y1="308.4" x2="126.5" y2="310.8" stroke="#1a1a1a" stroke-width="1.1"/>
<line x1="140.2" y1="308.4" x2="140.2" y2="312.6" stroke="#1a1a1a" stroke-width="1.1"/>
<line x1="153.9" y1="308.4" x2="153.9" y2="310.8" stroke="#1a1a1a" stroke-width="1.1"/>
<line x1="167.6" y1="308.4" x2="167.6" y2="312.6" stroke="#1a1a1a" stroke-width="1.1"/>
<line x1="181.3" y1="308.4" x2="181.3" y2="310.8" stroke="#1a1a1a" stroke-width="1.1"/>
<line x1="195" y1="308.4" x2="195" y2="312.6" stroke="#1a1a1a" stroke-width="1.1"/>
<line x1="208.7" y1="308.4" x2="208.7" y2="310.8" stroke="#1a1a1a" stroke-width="1.1"/>
<text transform="translate(62.6,323.8) rotate(-24)" font-size="10.9" text-anchor="middle">1968&#8211;4</text>
<text transform="translate(90,323.8) rotate(-24)" font-size="10.9" text-anchor="middle">1976&#8211;8</text>
<text transform="translate(117.4,323.8) rotate(-24)" font-size="10.9" text-anchor="middle">1984&#8211;12</text>
<text transform="translate(144.8,323.8) rotate(-24)" font-size="10.9" text-anchor="middle">1993&#8211;4</text>
<text transform="translate(172.2,323.8) rotate(-24)" font-size="10.9" text-anchor="middle">2001&#8211;8</text>
<text transform="translate(199.6,323.8) rotate(-24)" font-size="10.9" text-anchor="middle">2009&#8211;12</text>
<text x="104.9" y="344.6" font-size="11.6" text-anchor="start">c. Month</text>
<line x1="41.5" y1="180" x2="66" y2="180" stroke="#ff55ff" stroke-width="1.7"/>
<line x1="41.5" y1="193.6" x2="66" y2="193.6" stroke="#a8a8a8" stroke-width="1.2"/>
<text x="70.4" y="183.4" font-size="11.6" text-anchor="start">Simulated Values(&#176;C)</text>
<text x="70.4" y="197.3" font-size="11.6" text-anchor="start">Measured Values(&#176;C)</text>
<polygon points="289.7,287.46 290.2,286.97 290.7,286.49 291.2,286 291.7,285.52 292.2,285.04 292.7,284.58 293.2,284.22 293.7,283.86 294.2,283.51 294.7,283.15 295.2,282.79 295.7,282.44 296.2,282.08 296.7,281.72 297.2,280.61 297.7,279.32 298.2,278.02 298.7,276.72 299.2,275.43 299.7,274.39 300.2,273.75 300.7,273.1 301.2,272.46 301.7,271.81 302.2,271.17 302.7,270.6 303.2,270.34 303.7,270.08 304.2,269.82 304.7,269.56 305.2,269.3 305.7,269.04 306.2,268.77 306.7,268.51 307.2,268.25 307.7,267.97 308.2,267.67 308.7,267.38 309.2,267.08 309.7,266.78 310.2,266.48 310.7,266.19 311.2,265.89 311.7,265.62 312.2,265.48 312.7,265.33 313.2,265.19 313.7,265.04 314.2,264.9 314.7,264.76 315.2,264.61 315.7,264.47 316.2,264.32 316.7,264.18 317.2,264.09 317.7,264 318.2,263.92 318.7,263.84 319.2,263.76 319.7,263.68 320.2,263.6 320.7,263.52 321.2,263.44 321.7,263.36 322.2,263.27 322.7,263.19 323.2,263.11 323.7,263.03 324.2,262.95 324.7,262.88 325.2,262.81 325.7,262.74 326.2,262.67 326.7,262.61 327.2,262.54 327.7,262.47 328.2,262.4 328.7,262.33 329.2,262.26 329.7,262.19 330.2,261.95 330.7,261.45 331.2,260.95 331.7,260.45 332.2,259.95 332.7,259.64 333.2,259.45 333.7,259.27 334.2,259.08 334.7,258.89 335.2,258.71 335.7,258.52 336.2,258.33 336.7,258.15 337.2,257.96 337.7,257.77 338.2,257.59 338.7,257.35 339.2,257.11 339.7,256.86 340.2,256.62 340.7,256.37 341.2,256.12 341.7,255.88 342.2,255.63 342.7,255.39 343.2,255.14 343.7,254.9 344.2,254.65 344.7,254.42 345.2,254.2 345.7,253.97 346.2,253.74 346.7,253.51 347.2,253.29 347.7,253.06 348.2,252.83 348.7,252.6 349.2,252.38 349.7,252.15 350.2,251.92 350.7,251.7 351.2,251.5 351.7,251.32 352.2,251.13 352.7,250.95 353.2,250.76 353.7,250.58 354.2,250.39 354.7,250.21 355.2,250.02 355.7,249.84 356.2,249.65 356.7,249.46 357.2,249.28 357.7,249.09 358.2,248.91 358.7,248.72 359.2,248.5 359.7,248.26 360.2,248.02 360.7,247.77 361.2,247.53 361.7,247.29 362.2,247.04 362.7,246.8 363.2,246.56 363.7,246.31 364.2,246.07 364.7,245.83 365.2,245.59 365.7,245.34 366.2,245.1 366.7,244.77 367.2,244.43 367.7,244.09 368.2,243.74 368.7,243.4 369.2,243.05 369.7,242.71 370.2,242.36 370.7,242.02 371.2,241.55 371.7,241.05 372.2,240.55 372.7,240.05 373.2,239.55 373.7,239.05 374.2,238.55 374.7,238.1 375.2,237.85 375.7,237.59 376.2,237.34 376.7,237.09 377.2,236.84 377.7,236.58 378.2,236.33 378.7,236.08 379.2,235.83 379.7,235.57 380.2,235.32 380.7,235.07 381.2,234.82 381.7,234.56 382.2,234.31 382.7,234.06 383.2,233.8 383.7,233.55 384.2,233.29 384.7,232.98 385.2,232.67 385.7,232.36 386.2,232.05 386.7,231.74 387.2,231.43 387.7,231.12 388.2,230.81 388.7,230.51 389.2,230.2 389.7,229.89 390.2,229.58 390.7,229.27 391.2,228.96 391.7,228.65 392.2,228.15 392.7,227.65 393.2,227.15 393.7,226.65 394.2,226.15 394.7,225.65 395.2,225.15 395.7,224.65 396.2,224.15 396.7,223.65 397.2,223.15 397.7,222.65 398.2,222.15 398.7,221.65 399.2,221.15 399.7,220.78 400.2,220.45 400.7,220.12 401.2,219.78 401.7,219.45 402.2,219.12 402.7,218.78 403.2,218.45 403.7,218.12 404.2,217.78 404.7,217.45 405.2,217.08 405.7,216.66 406.2,216.24 406.7,215.82 407.2,215.4 407.7,214.98 408.2,214.56 408.7,214.14 409.2,213.73 409.7,213.31 410.2,212.89 410.7,212.48 411.2,212.15 411.7,211.82 412.2,211.48 412.7,211.15 413.2,210.82 413.7,210.48 414.2,210.15 414.7,209.82 415.2,209.48 415.7,209.15 416.2,208.82 416.7,208.45 417.2,208.08 417.7,207.7 418.2,207.33 418.7,206.95 419.2,206.58 419.7,206.2 420.2,205.83 420.7,205.45 421.2,205.08 421.7,204.7 422.2,204.33 422.7,203.95 423.2,203.58 423.7,203.2 424.2,202.93 424.7,202.73 425.2,202.52 425.7,202.32 426.2,202.12 426.7,201.92 427.2,201.72 427.7,201.51 428.2,201.31 428.7,201.24 429.2,201.7 429.7,202.16 429.7,207.83 429.2,208.25 428.7,208.66 428.2,209.07 427.7,209.48 427.2,209.9 426.7,210.31 426.2,210.72 425.7,211.15 425.2,211.65 424.7,212.15 424.2,212.65 423.7,213.15 423.2,213.65 422.7,214.15 422.2,214.65 421.7,214.97 421.2,215.17 420.7,215.37 420.2,215.57 419.7,215.77 419.2,215.97 418.7,216.17 418.2,216.37 417.7,216.57 417.2,216.77 416.7,216.97 416.2,217.17 415.7,217.37 415.2,217.57 414.7,217.77 414.2,217.97 413.7,218.17 413.2,218.37 412.7,218.57 412.2,219.53 411.7,221.01 411.2,222.48 410.7,223.96 410.2,224.4 409.7,224.59 409.2,224.78 408.7,224.98 408.2,225.17 407.7,225.36 407.2,225.55 406.7,225.74 406.2,225.93 405.7,226.12 405.2,226.31 404.7,226.5 404.2,226.69 403.7,226.88 403.2,227.07 402.7,227.34 402.2,227.65 401.7,227.96 401.2,228.28 400.7,228.59 400.2,228.9 399.7,229.22 399.2,229.53 398.7,229.84 398.2,230.16 397.7,230.47 397.2,230.78 396.7,231.1 396.2,231.41 395.7,231.72 395.2,232.15 394.7,232.65 394.2,233.15 393.7,233.65 393.2,234.15 392.7,234.65 392.2,235.15 391.7,235.65 391.2,236.15 390.7,236.65 390.2,237.15 389.7,237.63 389.2,238.01 388.7,238.39 388.2,238.77 387.7,239.15 387.2,239.53 386.7,239.92 386.2,240.3 385.7,240.68 385.2,241.06 384.7,241.44 384.2,241.82 383.7,242.21 383.2,242.59 382.7,242.97 382.2,243.35 381.7,243.65 381.2,243.94 380.7,244.24 380.2,244.53 379.7,244.83 379.2,245.13 378.7,245.42 378.2,245.72 377.7,246.01 377.2,246.31 376.7,246.61 376.2,246.9 375.7,247.2 375.2,247.49 374.7,247.79 374.2,248.11 373.7,248.44 373.2,248.76 372.7,249.09 372.2,249.42 371.7,249.74 371.2,250.07 370.7,250.39 370.2,250.72 369.7,251.09 369.2,251.48 368.7,251.88 368.2,252.27 367.7,252.66 367.2,253.06 366.7,253.45 366.2,253.85 365.7,254.24 365.2,254.63 364.7,255.02 364.2,255.36 363.7,255.7 363.2,256.03 362.7,256.37 362.2,256.71 361.7,257.05 361.2,257.39 360.7,257.73 360.2,258.07 359.7,258.41 359.2,258.75 358.7,259.05 358.2,259.3 357.7,259.54 357.2,259.79 356.7,260.03 356.2,260.28 355.7,260.53 355.2,260.77 354.7,261.02 354.2,261.27 353.7,261.51 353.2,261.76 352.7,262.01 352.2,262.25 351.7,262.5 351.2,262.71 350.7,262.91 350.2,263.12 349.7,263.32 349.2,263.52 348.7,263.73 348.2,263.93 347.7,264.13 347.2,264.33 346.7,264.54 346.2,264.74 345.7,264.94 345.2,265.14 344.7,265.35 344.2,265.55 343.7,265.85 343.2,266.14 342.7,266.44 342.2,266.74 341.7,267.04 341.2,267.33 340.7,267.63 340.2,267.93 339.7,268.23 339.2,268.52 338.7,268.82 338.2,269.12 337.7,269.41 337.2,269.71 336.7,270 336.2,270.25 335.7,270.51 335.2,270.76 334.7,271.01 334.2,271.27 333.7,271.52 333.2,271.77 332.7,272.03 332.2,272.28 331.7,272.53 331.2,272.79 330.7,273.04 330.2,273.3 329.7,273.55 329.2,273.8 328.7,274.04 328.2,274.29 327.7,274.53 327.2,274.78 326.7,275.03 326.2,275.27 325.7,275.52 325.2,275.76 324.7,276.01 324.2,276.26 323.7,276.5 323.2,276.75 322.7,277.01 322.2,277.26 321.7,277.52 321.2,277.77 320.7,278.02 320.2,278.28 319.7,278.53 319.2,278.79 318.7,279.04 318.2,279.3 317.7,279.55 317.2,279.78 316.7,280 316.2,280.23 315.7,280.45 315.2,280.68 314.7,280.9 314.2,281.12 313.7,281.35 313.2,281.76 312.7,282.16 312.2,282.57 311.7,282.98 311.2,283.38 310.7,283.79 310.2,284.06 309.7,284.24 309.2,284.43 308.7,284.61 308.2,284.79 307.7,284.97 307.2,285.16 306.7,285.34 306.2,285.52 305.7,285.7 305.2,285.86 304.7,285.92 304.2,285.98 303.7,286.04 303.2,286.09 302.7,286.15 302.2,286.21 301.7,286.27 301.2,286.33 300.7,287.04 300.2,288.2 299.7,289.35 299.2,290.5 298.7,291.66 298.2,292.36 297.7,292.38 297.2,292.4 296.7,292.42 296.2,292.45 295.7,292.47 295.2,292.49 294.7,292.51 294.2,292.53 293.7,292.56 293.2,292.58 292.7,292.6 292.2,292.62 291.7,292.64 291.2,292.67 290.7,292.69 290.2,292.71 289.7,292.73" fill="#000" stroke="#000" stroke-width="2.4" stroke-linejoin="round"/>
<rect x="287.2" y="286.08" width="5.3" height="5.3" fill="#000"/>
<rect x="287.4" y="288.24" width="5.3" height="5.3" fill="#000"/>
<rect x="290.34" y="281.39" width="5.3" height="5.3" fill="#000"/>
<rect x="289.79" y="288.12" width="5.3" height="5.3" fill="#000"/>
<rect x="292.95" y="279.72" width="5.3" height="5.3" fill="#000"/>
<rect x="292.44" y="289.95" width="5.3" height="5.3" fill="#000"/>
<rect x="295.03" y="276.18" width="5.3" height="5.3" fill="#000"/>
<rect x="294.6" y="289.75" width="5.3" height="5.3" fill="#000"/>
<rect x="298.33" y="270.15" width="5.3" height="5.3" fill="#000"/>
<rect x="298.36" y="284.9" width="5.3" height="5.3" fill="#000"/>
<rect x="300.15" y="266.87" width="5.3" height="5.3" fill="#000"/>
<rect x="301.04" y="283.65" width="5.3" height="5.3" fill="#000"/>
<rect x="303.12" y="268.29" width="5.3" height="5.3" fill="#000"/>
<rect x="302.29" y="281.32" width="5.3" height="5.3" fill="#000"/>
<rect x="305.22" y="265.12" width="5.3" height="5.3" fill="#000"/>
<rect x="305.53" y="281.21" width="5.3" height="5.3" fill="#000"/>
<rect x="308.62" y="263.51" width="5.3" height="5.3" fill="#000"/>
<rect x="307.98" y="281.39" width="5.3" height="5.3" fill="#000"/>
<rect x="309.46" y="262.75" width="5.3" height="5.3" fill="#000"/>
<rect x="310.11" y="280.36" width="5.3" height="5.3" fill="#000"/>
<rect x="312.47" y="262" width="5.3" height="5.3" fill="#000"/>
<rect x="313.05" y="277.43" width="5.3" height="5.3" fill="#000"/>
<rect x="314.75" y="262.57" width="5.3" height="5.3" fill="#000"/>
<rect x="314.24" y="275.09" width="5.3" height="5.3" fill="#000"/>
<rect x="316.71" y="262.7" width="5.3" height="5.3" fill="#000"/>
<rect x="315.83" y="274.8" width="5.3" height="5.3" fill="#000"/>
<rect x="318.69" y="260" width="5.3" height="5.3" fill="#000"/>
<rect x="318.05" y="275.39" width="5.3" height="5.3" fill="#000"/>
<rect x="321.36" y="261.59" width="5.3" height="5.3" fill="#000"/>
<rect x="322.24" y="271.68" width="5.3" height="5.3" fill="#000"/>
<rect x="323.7" y="260.65" width="5.3" height="5.3" fill="#000"/>
<rect x="324.21" y="272.96" width="5.3" height="5.3" fill="#000"/>
<rect x="327.03" y="261.2" width="5.3" height="5.3" fill="#000"/>
<rect x="326.12" y="269.24" width="5.3" height="5.3" fill="#000"/>
<rect x="328.23" y="259.34" width="5.3" height="5.3" fill="#000"/>
<rect x="328.92" y="270.05" width="5.3" height="5.3" fill="#000"/>
<rect x="331.55" y="256.52" width="5.3" height="5.3" fill="#000"/>
<rect x="331.28" y="268.95" width="5.3" height="5.3" fill="#000"/>
<rect x="332.8" y="256.93" width="5.3" height="5.3" fill="#000"/>
<rect x="333.82" y="268.12" width="5.3" height="5.3" fill="#000"/>
<rect x="335.48" y="255.87" width="5.3" height="5.3" fill="#000"/>
<rect x="334.79" y="266.99" width="5.3" height="5.3" fill="#000"/>
<rect x="337.84" y="254.49" width="5.3" height="5.3" fill="#000"/>
<rect x="337.36" y="265.98" width="5.3" height="5.3" fill="#000"/>
<rect x="339.96" y="253.09" width="5.3" height="5.3" fill="#000"/>
<rect x="340.92" y="263.95" width="5.3" height="5.3" fill="#000"/>
<rect x="343.83" y="252.18" width="5.3" height="5.3" fill="#000"/>
<rect x="343.63" y="262.7" width="5.3" height="5.3" fill="#000"/>
<rect x="345.16" y="251.73" width="5.3" height="5.3" fill="#000"/>
<rect x="345.34" y="260.8" width="5.3" height="5.3" fill="#000"/>
<rect x="349.2" y="250.7" width="5.3" height="5.3" fill="#000"/>
<rect x="348.73" y="259.4" width="5.3" height="5.3" fill="#000"/>
<rect x="351.52" y="247.76" width="5.3" height="5.3" fill="#000"/>
<rect x="351.43" y="259.01" width="5.3" height="5.3" fill="#000"/>
<rect x="354.34" y="248.81" width="5.3" height="5.3" fill="#000"/>
<rect x="353.9" y="256.93" width="5.3" height="5.3" fill="#000"/>
<rect x="355.4" y="246.09" width="5.3" height="5.3" fill="#000"/>
<rect x="356.23" y="254.85" width="5.3" height="5.3" fill="#000"/>
<rect x="358.41" y="246.48" width="5.3" height="5.3" fill="#000"/>
<rect x="358.3" y="254.01" width="5.3" height="5.3" fill="#000"/>
<rect x="360.72" y="244.92" width="5.3" height="5.3" fill="#000"/>
<rect x="360.62" y="252.6" width="5.3" height="5.3" fill="#000"/>
<rect x="363.95" y="242.38" width="5.3" height="5.3" fill="#000"/>
<rect x="364.25" y="250.04" width="5.3" height="5.3" fill="#000"/>
<rect x="365.66" y="241.34" width="5.3" height="5.3" fill="#000"/>
<rect x="365.95" y="247.99" width="5.3" height="5.3" fill="#000"/>
<rect x="368.97" y="239.88" width="5.3" height="5.3" fill="#000"/>
<rect x="368.94" y="247.22" width="5.3" height="5.3" fill="#000"/>
<rect x="371.5" y="237.75" width="5.3" height="5.3" fill="#000"/>
<rect x="371.04" y="244.12" width="5.3" height="5.3" fill="#000"/>
<rect x="374.44" y="236.29" width="5.3" height="5.3" fill="#000"/>
<rect x="374.76" y="243.21" width="5.3" height="5.3" fill="#000"/>
<rect x="376.26" y="234.66" width="5.3" height="5.3" fill="#000"/>
<rect x="377.18" y="241.88" width="5.3" height="5.3" fill="#000"/>
<rect x="379.63" y="233" width="5.3" height="5.3" fill="#000"/>
<rect x="378.97" y="239.43" width="5.3" height="5.3" fill="#000"/>
<rect x="382.09" y="230.8" width="5.3" height="5.3" fill="#000"/>
<rect x="382.04" y="237.54" width="5.3" height="5.3" fill="#000"/>
<rect x="384.78" y="228.08" width="5.3" height="5.3" fill="#000"/>
<rect x="384.1" y="236.48" width="5.3" height="5.3" fill="#000"/>
<rect x="386.81" y="228.29" width="5.3" height="5.3" fill="#000"/>
<rect x="387.31" y="235.58" width="5.3" height="5.3" fill="#000"/>
<rect x="389.18" y="224.9" width="5.3" height="5.3" fill="#000"/>
<rect x="389.07" y="232.45" width="5.3" height="5.3" fill="#000"/>
<rect x="391.03" y="222.95" width="5.3" height="5.3" fill="#000"/>
<rect x="391.36" y="230.39" width="5.3" height="5.3" fill="#000"/>
<rect x="394.08" y="220.94" width="5.3" height="5.3" fill="#000"/>
<rect x="394.46" y="229.29" width="5.3" height="5.3" fill="#000"/>
<rect x="395.96" y="219.17" width="5.3" height="5.3" fill="#000"/>
<rect x="395.76" y="225.56" width="5.3" height="5.3" fill="#000"/>
<rect x="397.87" y="218.14" width="5.3" height="5.3" fill="#000"/>
<rect x="397.94" y="224.98" width="5.3" height="5.3" fill="#000"/>
<rect x="400.66" y="217.67" width="5.3" height="5.3" fill="#000"/>
<rect x="400.95" y="224.04" width="5.3" height="5.3" fill="#000"/>
<rect x="403.64" y="213.9" width="5.3" height="5.3" fill="#000"/>
<rect x="403.04" y="222.44" width="5.3" height="5.3" fill="#000"/>
<rect x="406.52" y="213.47" width="5.3" height="5.3" fill="#000"/>
<rect x="406.1" y="222.17" width="5.3" height="5.3" fill="#000"/>
<rect x="408.4" y="208.7" width="5.3" height="5.3" fill="#000"/>
<rect x="409.08" y="217.59" width="5.3" height="5.3" fill="#000"/>
<rect x="410.98" y="209.68" width="5.3" height="5.3" fill="#000"/>
<rect x="410.67" y="215.2" width="5.3" height="5.3" fill="#000"/>
<rect x="412.54" y="208.6" width="5.3" height="5.3" fill="#000"/>
<rect x="412.64" y="212.93" width="5.3" height="5.3" fill="#000"/>
<rect x="415.96" y="204.38" width="5.3" height="5.3" fill="#000"/>
<rect x="416.42" y="213.01" width="5.3" height="5.3" fill="#000"/>
<rect x="417.9" y="204.71" width="5.3" height="5.3" fill="#000"/>
<rect x="418.1" y="212.69" width="5.3" height="5.3" fill="#000"/>
<rect x="420.02" y="201.92" width="5.3" height="5.3" fill="#000"/>
<rect x="420.41" y="211.05" width="5.3" height="5.3" fill="#000"/>
<rect x="423.72" y="198.8" width="5.3" height="5.3" fill="#000"/>
<rect x="423.37" y="208.29" width="5.3" height="5.3" fill="#000"/>
<rect x="426.76" y="198.82" width="5.3" height="5.3" fill="#000"/>
<rect x="426.14" y="206.07" width="5.3" height="5.3" fill="#000"/>
<rect x="284.95" y="270.25" width="5.3" height="5.3" fill="#000"/>
<rect x="295.25" y="262.85" width="5.3" height="5.3" fill="#000"/>
<line x1="287.76" y1="294.4" x2="429.98" y2="207.87" stroke="#b0101a" stroke-width="0.9"/>
<line x1="271.4" y1="193.57" x2="271.4" y2="309.25" stroke="#1a1a1a" stroke-width="1.1"/>
<line x1="270.85" y1="308.7" x2="463.3" y2="308.7" stroke="#1a1a1a" stroke-width="1.1"/>
<line x1="268.8" y1="308.71" x2="271.4" y2="308.71" stroke="#1a1a1a" stroke-width="1.1"/>
<line x1="266.2" y1="292.34" x2="271.4" y2="292.34" stroke="#1a1a1a" stroke-width="1.1"/>
<text x="262.8" y="296.24" font-size="11.6" text-anchor="end">-20</text>
<line x1="268.8" y1="275.97" x2="271.4" y2="275.97" stroke="#1a1a1a" stroke-width="1.1"/>
<line x1="266.2" y1="259.6" x2="271.4" y2="259.6" stroke="#1a1a1a" stroke-width="1.1"/>
<text x="262.8" y="263.5" font-size="11.6" text-anchor="end">0</text>
<line x1="268.8" y1="243.23" x2="271.4" y2="243.23" stroke="#1a1a1a" stroke-width="1.1"/>
<line x1="266.2" y1="226.86" x2="271.4" y2="226.86" stroke="#1a1a1a" stroke-width="1.1"/>
<text x="262.8" y="230.76" font-size="11.6" text-anchor="end">20</text>
<line x1="268.8" y1="210.49" x2="271.4" y2="210.49" stroke="#1a1a1a" stroke-width="1.1"/>
<line x1="266.2" y1="194.12" x2="271.4" y2="194.12" stroke="#1a1a1a" stroke-width="1.1"/>
<text x="262.8" y="198.02" font-size="11.6" text-anchor="end">40</text>
<line x1="271.35" y1="308.7" x2="271.35" y2="311.1" stroke="#1a1a1a" stroke-width="1.1"/>
<line x1="298.7" y1="308.7" x2="298.7" y2="312.9" stroke="#1a1a1a" stroke-width="1.1"/>
<text x="298.7" y="326.9" font-size="11.6" text-anchor="middle">-20</text>
<line x1="326.05" y1="308.7" x2="326.05" y2="311.1" stroke="#1a1a1a" stroke-width="1.1"/>
<line x1="353.4" y1="308.7" x2="353.4" y2="312.9" stroke="#1a1a1a" stroke-width="1.1"/>
<text x="353.4" y="326.9" font-size="11.6" text-anchor="middle">0</text>
<line x1="380.75" y1="308.7" x2="380.75" y2="311.1" stroke="#1a1a1a" stroke-width="1.1"/>
<line x1="408.1" y1="308.7" x2="408.1" y2="312.9" stroke="#1a1a1a" stroke-width="1.1"/>
<text x="408.1" y="326.9" font-size="11.6" text-anchor="middle">20</text>
<line x1="435.45" y1="308.7" x2="435.45" y2="311.1" stroke="#1a1a1a" stroke-width="1.1"/>
<line x1="462.8" y1="308.7" x2="462.8" y2="312.9" stroke="#1a1a1a" stroke-width="1.1"/>
<text x="462.8" y="326.9" font-size="11.6" text-anchor="middle">40</text>
<text x="280.5" y="341.2" font-size="11.6" text-anchor="start">d. Simulated Monthly Values of LST (&#176;C)</text>
<text transform="translate(232.9,251.7) rotate(-90)" font-size="11.6" text-anchor="middle">Measured Monthly</text>
<text transform="translate(247.3,250.9) rotate(-90)" font-size="11.6" text-anchor="middle">Values of LST (&#176;C)</text>
<text x="275.5" y="186" font-size="11.6"><tspan font-style="italic">y</tspan> = 1.0165<tspan font-style="italic">x</tspan> + 3.1361</text>
<text x="275.5" y="201.7" font-size="11.6"><tspan font-style="italic">R</tspan><tspan font-size="7.5" dy="-4.5">2</tspan><tspan dy="4.5"> = 0.98</tspan></text>
<text x="275.5" y="215.5" font-size="11.6">RMSE=3.93</text>
<text x="275.5" y="230.2" font-size="11.6">MAE=3.31</text>
<text x="275.5" y="244.4" font-size="11.6">NSE=0.93</text>
<polyline points="88.09,361 88.38,362.82 88.71,364.63 89.09,366.45 89.52,368.27 90,370.08 90.54,371.9 91.14,373.72 91.79,375.53 92.5,377.35 93.27,379.17 94.1,380.98 94.98,382.8 95.91,384.62 96.88,386.43 97.88,388.25 98.9,390.07 99.94,391.88 100.98,393.7 102.01,395.52 103.01,397.33 103.98,399.15 104.89,400.97 105.73,402.78 106.5,404.6 107.17,406.42 107.74,408.23 108.19,410.05 108.52,411.87 108.73,413.68 108.8,415.5 108.74,417.32 108.55,419.13 108.23,420.95 107.79,422.77 107.24,424.58 106.58,426.4 105.82,428.22 104.98,430.03 104.08,431.85 103.12,433.67 102.12,435.48 101.09,437.3 100.06,439.12 99.02,440.93 97.99,442.75 96.99,444.57 96.01,446.38 95.08,448.2 94.2,450.02 93.36,451.83 92.59,453.65 91.87,455.47 91.2,457.28 90.6,459.1 90.06,460.92 89.57,462.73 89.14,464.55 88.75,466.37 88.42,468.18 88.12,470" fill="none" stroke="#555555" stroke-width="0.9" stroke-linejoin="round"/>
<path d="M187.3,361.6 C188.12,363.33 190.75,368.77 192.2,372 C193.65,375.23 194.82,378.1 196,381 C197.18,383.9 198.27,386.98 199.3,389.4 C200.33,391.82 201.35,393.5 202.2,395.5 C203.05,397.5 203.72,399.32 204.4,401.4 C205.08,403.48 205.87,405.95 206.3,408 C206.73,410.05 207.02,411.7 207,413.7 C206.98,415.7 206.63,417.95 206.2,420 C205.77,422.05 205.3,423.92 204.4,426 C203.5,428.08 202.07,430.47 200.8,432.5 C199.53,434.53 198.02,436.45 196.8,438.2 C195.58,439.95 194.55,441.2 193.5,443 C192.45,444.8 191.33,447.17 190.5,449 C189.67,450.83 189.03,452.62 188.5,454 C187.97,455.38 187.68,455.63 187.3,457.3 C186.92,458.97 186.55,461.72 186.2,464 C185.85,466.28 185.37,469.83 185.2,471" fill="none" stroke="#f04848" stroke-width="0.9"/>
<line x1="65.9" y1="382.2" x2="65.9" y2="391.5" stroke="#8c8c8c" stroke-width="0.9"/>
<line x1="65.9" y1="433.7" x2="65.9" y2="469.1" stroke="#8c8c8c" stroke-width="0.9"/>
<line x1="58.2" y1="382.2" x2="73.4" y2="382.2" stroke="#8c8c8c" stroke-width="0.9"/>
<line x1="58.2" y1="469.1" x2="73.4" y2="469.1" stroke="#8c8c8c" stroke-width="0.9"/>
<rect x="51" y="391.5" width="29.8" height="42.2" fill="#fdc896" stroke="#8c8c8c" stroke-width="0.9"/>
<line x1="51" y1="410.1" x2="80.8" y2="410.1" stroke="#8c8c8c" stroke-width="1.0"/>
<circle cx="66" cy="414.8" r="0.6" fill="#8c8c8c"/>
<line x1="163.4" y1="369.8" x2="163.4" y2="386.7" stroke="#ee6a6a" stroke-width="0.9"/>
<line x1="163.4" y1="434.4" x2="163.4" y2="462.8" stroke="#ee6a6a" stroke-width="0.9"/>
<line x1="156.4" y1="369.8" x2="171" y2="369.8" stroke="#ee6a6a" stroke-width="0.9"/>
<line x1="156.4" y1="462.8" x2="171" y2="462.8" stroke="#ee6a6a" stroke-width="0.9"/>
<rect x="148.6" y="386.7" width="29.6" height="47.7" fill="#a2d8a0" stroke="#ee6a6a" stroke-width="0.9"/>
<line x1="148.6" y1="409.3" x2="178.2" y2="409.3" stroke="#ee6a6a" stroke-width="1.0"/>
<circle cx="163.3" cy="411.7" r="0.6" fill="#ee6a6a"/>
<polygon points="86.66,384 88.13,383.19 91.54,384.2 94.33,382.93 95.81,386.31 101.26,387.2 104.95,387 107.03,387.28 108.34,388.57 107.84,390.34 107.03,392.96 103.71,394.79 102.72,398.48 102.32,401.68 98.59,401.09 96.47,404.03 95.8,407.91 95.5,419.99 95.6,432.01 95.8,443.93 94.62,451.82 92.56,461.66 89.74,466.99 88.32,470.21 87.38,465.81 86.7,449.98 86.6,430 86.6,410 86.6,395.01" fill="#484848" stroke="none" transform="translate(0,0)"/>
<circle cx="91.25" cy="430.52" r="1.25" fill="#484848"/>
<circle cx="94.38" cy="435.85" r="1.25" fill="#484848"/>
<circle cx="100.45" cy="387.78" r="1.25" fill="#484848"/>
<circle cx="91.76" cy="402.85" r="1.25" fill="#484848"/>
<circle cx="100.77" cy="395.38" r="1.25" fill="#484848"/>
<circle cx="101.54" cy="387.65" r="1.25" fill="#484848"/>
<circle cx="92.75" cy="384.7" r="1.25" fill="#484848"/>
<circle cx="106.46" cy="390.63" r="1.25" fill="#484848"/>
<circle cx="88.83" cy="401.3" r="1.25" fill="#484848"/>
<circle cx="93.93" cy="434.16" r="1.25" fill="#484848"/>
<circle cx="101.53" cy="396.49" r="1.25" fill="#484848"/>
<circle cx="92.36" cy="387.59" r="1.25" fill="#484848"/>
<circle cx="87.7" cy="453.4" r="1.25" fill="#484848"/>
<circle cx="95.34" cy="395.39" r="1.25" fill="#484848"/>
<circle cx="92.58" cy="450.57" r="1.25" fill="#484848"/>
<circle cx="92.95" cy="388.8" r="1.25" fill="#484848"/>
<circle cx="90.29" cy="418.35" r="1.25" fill="#484848"/>
<circle cx="100.09" cy="395.87" r="1.25" fill="#484848"/>
<circle cx="91.24" cy="408.81" r="1.25" fill="#484848"/>
<circle cx="95.46" cy="433.71" r="1.25" fill="#484848"/>
<circle cx="100.61" cy="387.29" r="1.25" fill="#484848"/>
<circle cx="91.56" cy="422.67" r="1.25" fill="#484848"/>
<circle cx="94.24" cy="409.84" r="1.25" fill="#484848"/>
<circle cx="94.36" cy="435.1" r="1.25" fill="#484848"/>
<circle cx="92.73" cy="415.6" r="1.25" fill="#484848"/>
<circle cx="92.96" cy="401.8" r="1.25" fill="#484848"/>
<circle cx="90.05" cy="420.79" r="1.25" fill="#484848"/>
<circle cx="102.17" cy="391.02" r="1.25" fill="#484848"/>
<circle cx="93.24" cy="411.73" r="1.25" fill="#484848"/>
<circle cx="93.59" cy="439.98" r="1.25" fill="#484848"/>
<circle cx="90.94" cy="392.72" r="1.25" fill="#484848"/>
<circle cx="98.17" cy="398.96" r="1.25" fill="#484848"/>
<circle cx="89.96" cy="406.8" r="1.25" fill="#484848"/>
<circle cx="88.68" cy="407.99" r="1.25" fill="#484848"/>
<circle cx="93.82" cy="419.15" r="1.25" fill="#484848"/>
<circle cx="92.46" cy="412.38" r="1.25" fill="#484848"/>
<circle cx="91" cy="388.01" r="1.25" fill="#484848"/>
<circle cx="89.68" cy="408.7" r="1.25" fill="#484848"/>
<circle cx="91.59" cy="458.86" r="1.25" fill="#484848"/>
<circle cx="93.95" cy="399.55" r="1.25" fill="#484848"/>
<circle cx="89.67" cy="452.61" r="1.25" fill="#484848"/>
<circle cx="86.79" cy="406.16" r="1.25" fill="#484848"/>
<circle cx="91.98" cy="429" r="1.25" fill="#484848"/>
<circle cx="86.9" cy="393.25" r="1.25" fill="#484848"/>
<circle cx="88.56" cy="388.04" r="1.25" fill="#484848"/>
<circle cx="87.64" cy="426.76" r="1.25" fill="#484848"/>
<circle cx="93.1" cy="410.01" r="1.25" fill="#484848"/>
<circle cx="93.94" cy="439.68" r="1.25" fill="#484848"/>
<circle cx="90.14" cy="411.28" r="1.25" fill="#484848"/>
<circle cx="88.54" cy="431.53" r="1.25" fill="#484848"/>
<circle cx="87.5" cy="397.87" r="1.25" fill="#484848"/>
<circle cx="94.46" cy="435.89" r="1.25" fill="#484848"/>
<circle cx="95.58" cy="443.9" r="1.25" fill="#484848"/>
<circle cx="96.54" cy="403.81" r="1.25" fill="#484848"/>
<circle cx="87.3" cy="419.86" r="1.25" fill="#484848"/>
<circle cx="91.82" cy="423.37" r="1.25" fill="#484848"/>
<circle cx="88.52" cy="454.53" r="1.25" fill="#484848"/>
<circle cx="88.05" cy="434.4" r="1.25" fill="#484848"/>
<circle cx="87.78" cy="390.79" r="1.25" fill="#484848"/>
<circle cx="88.48" cy="457.27" r="1.25" fill="#484848"/>
<circle cx="102.58" cy="391.46" r="1.25" fill="#484848"/>
<circle cx="87.05" cy="410.88" r="1.25" fill="#484848"/>
<circle cx="91.35" cy="397.98" r="1.25" fill="#484848"/>
<circle cx="91.53" cy="436.92" r="1.25" fill="#484848"/>
<circle cx="94.32" cy="417.34" r="1.25" fill="#484848"/>
<circle cx="93.91" cy="419.27" r="1.25" fill="#484848"/>
<circle cx="87.58" cy="426.6" r="1.25" fill="#484848"/>
<circle cx="87.88" cy="448.72" r="1.25" fill="#484848"/>
<circle cx="90.02" cy="405.8" r="1.25" fill="#484848"/>
<circle cx="90.33" cy="434.21" r="1.25" fill="#484848"/>
<circle cx="93.07" cy="402.67" r="1.25" fill="#484848"/>
<circle cx="92.62" cy="444.9" r="1.25" fill="#484848"/>
<circle cx="90.77" cy="383.99" r="1.25" fill="#484848"/>
<circle cx="89.69" cy="414.11" r="1.25" fill="#484848"/>
<circle cx="93.24" cy="451.05" r="1.25" fill="#484848"/>
<circle cx="96.69" cy="402.43" r="1.25" fill="#484848"/>
<circle cx="91.17" cy="446" r="1.25" fill="#484848"/>
<circle cx="90.1" cy="405.02" r="1.25" fill="#484848"/>
<circle cx="90.04" cy="444.85" r="1.25" fill="#484848"/>
<circle cx="91.65" cy="459.16" r="1.25" fill="#484848"/>
<circle cx="93.04" cy="419.72" r="1.25" fill="#484848"/>
<circle cx="102.9" cy="389.6" r="1.25" fill="#484848"/>
<circle cx="87.8" cy="456.38" r="1.25" fill="#484848"/>
<circle cx="92.53" cy="413.77" r="1.25" fill="#484848"/>
<circle cx="90.59" cy="434.17" r="1.25" fill="#484848"/>
<circle cx="98.52" cy="392.57" r="1.25" fill="#484848"/>
<circle cx="92.12" cy="441.34" r="1.25" fill="#484848"/>
<circle cx="88.27" cy="461.14" r="1.25" fill="#484848"/>
<circle cx="107.17" cy="390.58" r="1.25" fill="#484848"/>
<circle cx="92.62" cy="442.27" r="1.25" fill="#484848"/>
<circle cx="91.9" cy="449.26" r="1.25" fill="#484848"/>
<circle cx="98.33" cy="392.04" r="1.25" fill="#484848"/>
<circle cx="99.04" cy="398.18" r="1.25" fill="#484848"/>
<circle cx="89.85" cy="461.38" r="1.25" fill="#484848"/>
<circle cx="101.16" cy="392.92" r="1.25" fill="#484848"/>
<circle cx="93.47" cy="446.25" r="1.25" fill="#484848"/>
<circle cx="93.02" cy="397.68" r="1.25" fill="#484848"/>
<circle cx="87.23" cy="445.84" r="1.25" fill="#484848"/>
<circle cx="91.91" cy="416.16" r="1.25" fill="#484848"/>
<circle cx="93.5" cy="417.94" r="1.25" fill="#484848"/>
<circle cx="88.26" cy="406.08" r="1.25" fill="#484848"/>
<circle cx="87.97" cy="391.99" r="1.25" fill="#484848"/>
<circle cx="89.99" cy="398.82" r="1.25" fill="#484848"/>
<circle cx="99.65" cy="395.01" r="1.25" fill="#484848"/>
<circle cx="95.06" cy="399.22" r="1.25" fill="#484848"/>
<circle cx="90.4" cy="404.26" r="1.25" fill="#484848"/>
<circle cx="90.19" cy="429.21" r="1.25" fill="#484848"/>
<circle cx="86.8" cy="414.06" r="1.25" fill="#484848"/>
<circle cx="91.14" cy="388.88" r="1.25" fill="#484848"/>
<circle cx="102.09" cy="393.92" r="1.25" fill="#484848"/>
<circle cx="88.19" cy="385.74" r="1.25" fill="#484848"/>
<circle cx="87.45" cy="399.81" r="1.25" fill="#484848"/>
<circle cx="89.42" cy="426.31" r="1.25" fill="#484848"/>
<circle cx="95.62" cy="439.89" r="1.25" fill="#484848"/>
<circle cx="92.83" cy="423.39" r="1.25" fill="#484848"/>
<circle cx="89.89" cy="462.23" r="1.25" fill="#484848"/>
<circle cx="94.41" cy="429.19" r="1.25" fill="#484848"/>
<circle cx="96.52" cy="399.36" r="1.25" fill="#484848"/>
<circle cx="90.57" cy="397.17" r="1.25" fill="#484848"/>
<circle cx="95.18" cy="396.95" r="1.25" fill="#484848"/>
<circle cx="89.59" cy="425.7" r="1.25" fill="#484848"/>
<circle cx="87.02" cy="383.93" r="1.25" fill="#484848"/>
<circle cx="95.17" cy="417.34" r="1.25" fill="#484848"/>
<circle cx="90.8" cy="390.35" r="1.25" fill="#484848"/>
<circle cx="96.87" cy="396.64" r="1.25" fill="#484848"/>
<circle cx="88.54" cy="386.56" r="1.25" fill="#484848"/>
<circle cx="91.53" cy="405.66" r="1.25" fill="#484848"/>
<circle cx="93.78" cy="390.3" r="1.25" fill="#484848"/>
<circle cx="89.64" cy="385.2" r="1.25" fill="#484848"/>
<circle cx="86.88" cy="440.34" r="1.25" fill="#484848"/>
<circle cx="92.83" cy="436.11" r="1.25" fill="#484848"/>
<circle cx="92.57" cy="457.81" r="1.25" fill="#484848"/>
<circle cx="88.32" cy="416.74" r="1.25" fill="#484848"/>
<circle cx="93.53" cy="442.64" r="1.25" fill="#484848"/>
<circle cx="95.44" cy="402.41" r="1.25" fill="#484848"/>
<circle cx="92" cy="397.08" r="1.25" fill="#484848"/>
<circle cx="97.16" cy="395.67" r="1.25" fill="#484848"/>
<circle cx="101.68" cy="390.6" r="1.25" fill="#484848"/>
<circle cx="91.23" cy="457.25" r="1.25" fill="#484848"/>
<circle cx="93.52" cy="414.97" r="1.25" fill="#484848"/>
<circle cx="87.31" cy="417.58" r="1.25" fill="#484848"/>
<circle cx="99.1" cy="391.76" r="1.25" fill="#484848"/>
<circle cx="87.52" cy="439.88" r="1.25" fill="#484848"/>
<circle cx="91.31" cy="386.29" r="1.25" fill="#484848"/>
<circle cx="89.22" cy="439.47" r="1.25" fill="#484848"/>
<circle cx="90.82" cy="432.14" r="1.25" fill="#484848"/>
<circle cx="98.3" cy="398.73" r="1.25" fill="#484848"/>
<circle cx="89.82" cy="388.99" r="1.25" fill="#484848"/>
<circle cx="105.2" cy="391.98" r="1.25" fill="#484848"/>
<circle cx="90.33" cy="461.68" r="1.25" fill="#484848"/>
<circle cx="87.64" cy="423.46" r="1.25" fill="#484848"/>
<circle cx="90.89" cy="455.98" r="1.25" fill="#484848"/>
<circle cx="93.81" cy="435.77" r="1.25" fill="#484848"/>
<circle cx="96.18" cy="391.83" r="1.25" fill="#484848"/>
<circle cx="102.88" cy="388.82" r="1.25" fill="#484848"/>
<circle cx="93.82" cy="425.19" r="1.25" fill="#484848"/>
<circle cx="87.3" cy="431.27" r="1.25" fill="#484848"/>
<circle cx="90.68" cy="413.22" r="1.25" fill="#484848"/>
<circle cx="95.83" cy="389.44" r="1.25" fill="#484848"/>
<circle cx="90.77" cy="396.68" r="1.25" fill="#484848"/>
<circle cx="89.98" cy="390.49" r="1.25" fill="#484848"/>
<circle cx="92.15" cy="420.53" r="1.25" fill="#484848"/>
<circle cx="93.78" cy="448.18" r="1.25" fill="#484848"/>
<circle cx="88.05" cy="408.65" r="1.25" fill="#484848"/>
<circle cx="95.36" cy="388.85" r="1.25" fill="#484848"/>
<circle cx="89.24" cy="450.02" r="1.25" fill="#484848"/>
<circle cx="94.44" cy="396.33" r="1.25" fill="#484848"/>
<circle cx="93" cy="423.28" r="1.25" fill="#484848"/>
<circle cx="92.37" cy="423.28" r="1.25" fill="#484848"/>
<circle cx="92.66" cy="403.59" r="1.25" fill="#484848"/>
<circle cx="88.72" cy="429.32" r="1.25" fill="#484848"/>
<circle cx="98.32" cy="396.72" r="1.25" fill="#484848"/>
<circle cx="86.79" cy="400.14" r="1.25" fill="#484848"/>
<circle cx="86.82" cy="430.68" r="1.25" fill="#484848"/>
<circle cx="87.83" cy="409.75" r="1.25" fill="#484848"/>
<circle cx="91.47" cy="453.54" r="1.25" fill="#484848"/>
<circle cx="95.53" cy="405.17" r="1.25" fill="#484848"/>
<circle cx="86.64" cy="420.28" r="1.25" fill="#484848"/>
<circle cx="91.47" cy="394.04" r="1.25" fill="#484848"/>
<circle cx="95.44" cy="428.21" r="1.25" fill="#484848"/>
<circle cx="89.65" cy="398.26" r="1.25" fill="#484848"/>
<circle cx="93.95" cy="422.54" r="1.25" fill="#484848"/>
<circle cx="93.07" cy="428.53" r="1.25" fill="#484848"/>
<circle cx="88.03" cy="441.63" r="1.25" fill="#484848"/>
<circle cx="94.41" cy="427.89" r="1.25" fill="#484848"/>
<circle cx="100.88" cy="399.35" r="1.25" fill="#484848"/>
<circle cx="93.11" cy="406.11" r="1.25" fill="#484848"/>
<circle cx="93.13" cy="416.97" r="1.25" fill="#484848"/>
<circle cx="92.29" cy="393.67" r="1.25" fill="#484848"/>
<circle cx="87.48" cy="402.44" r="1.25" fill="#484848"/>
<circle cx="90.35" cy="389.03" r="1.25" fill="#484848"/>
<circle cx="87.25" cy="405.82" r="1.25" fill="#484848"/>
<circle cx="89.02" cy="462.77" r="1.25" fill="#484848"/>
<circle cx="88.98" cy="386.8" r="1.25" fill="#484848"/>
<circle cx="90.1" cy="455.38" r="1.25" fill="#484848"/>
<circle cx="94.68" cy="391.49" r="1.25" fill="#484848"/>
<circle cx="92.26" cy="393.65" r="1.25" fill="#484848"/>
<circle cx="89.05" cy="393.26" r="1.25" fill="#484848"/>
<circle cx="87.43" cy="399.07" r="1.25" fill="#484848"/>
<circle cx="93.04" cy="383.83" r="1.25" fill="#484848"/>
<circle cx="93.8" cy="448.72" r="1.25" fill="#484848"/>
<circle cx="89.59" cy="405.67" r="1.25" fill="#484848"/>
<circle cx="90.4" cy="386.67" r="1.25" fill="#484848"/>
<circle cx="106.31" cy="392.16" r="1.25" fill="#484848"/>
<circle cx="103.78" cy="390.19" r="1.25" fill="#484848"/>
<circle cx="89.07" cy="435.53" r="1.25" fill="#484848"/>
<circle cx="93.27" cy="427.14" r="1.25" fill="#484848"/>
<circle cx="94.47" cy="410.33" r="1.25" fill="#484848"/>
<circle cx="94.11" cy="435.59" r="1.25" fill="#484848"/>
<circle cx="92" cy="392.93" r="1.25" fill="#484848"/>
<circle cx="93.69" cy="439.54" r="1.25" fill="#484848"/>
<circle cx="87.24" cy="419.91" r="1.25" fill="#484848"/>
<circle cx="94.3" cy="401.09" r="1.25" fill="#484848"/>
<circle cx="92.74" cy="427.04" r="1.25" fill="#484848"/>
<circle cx="95.07" cy="415.19" r="1.25" fill="#484848"/>
<circle cx="99.47" cy="394.98" r="1.25" fill="#484848"/>
<circle cx="90.82" cy="415.04" r="1.25" fill="#484848"/>
<circle cx="100.19" cy="394.38" r="1.25" fill="#484848"/>
<circle cx="87.54" cy="410.56" r="1.25" fill="#484848"/>
<circle cx="92.32" cy="384.56" r="1.25" fill="#484848"/>
<circle cx="101.8" cy="392.71" r="1.25" fill="#484848"/>
<circle cx="92.41" cy="398.88" r="1.25" fill="#484848"/>
<circle cx="87.61" cy="384.43" r="1.25" fill="#484848"/>
<circle cx="92.11" cy="416.64" r="1.25" fill="#484848"/>
<circle cx="95.95" cy="390.59" r="1.25" fill="#484848"/>
<circle cx="87.58" cy="421.36" r="1.25" fill="#484848"/>
<circle cx="93.47" cy="419.32" r="1.25" fill="#484848"/>
<circle cx="90.39" cy="416.91" r="1.25" fill="#484848"/>
<circle cx="87.7" cy="439.18" r="1.25" fill="#484848"/>
<circle cx="87.62" cy="402.66" r="1.25" fill="#484848"/>
<circle cx="98.14" cy="400" r="1.25" fill="#484848"/>
<circle cx="88.75" cy="429.39" r="1.25" fill="#484848"/>
<circle cx="90.43" cy="387.27" r="1.25" fill="#484848"/>
<circle cx="90.2" cy="459.72" r="1.25" fill="#484848"/>
<circle cx="90.73" cy="455.38" r="1.25" fill="#484848"/>
<circle cx="90.63" cy="398.58" r="1.25" fill="#484848"/>
<circle cx="95.13" cy="416.68" r="1.25" fill="#484848"/>
<circle cx="89.82" cy="404.31" r="1.25" fill="#484848"/>
<circle cx="91.85" cy="443.9" r="1.25" fill="#484848"/>
<circle cx="93.68" cy="391.85" r="1.25" fill="#484848"/>
<circle cx="90.83" cy="421.41" r="1.25" fill="#484848"/>
<circle cx="102.21" cy="401.16" r="1.25" fill="#484848"/>
<circle cx="89.77" cy="448.98" r="1.25" fill="#484848"/>
<circle cx="94.96" cy="430.1" r="1.25" fill="#484848"/>
<circle cx="96.1" cy="386.93" r="1.25" fill="#484848"/>
<circle cx="91.97" cy="462.16" r="1.25" fill="#484848"/>
<circle cx="97.07" cy="397.88" r="1.25" fill="#484848"/>
<circle cx="88.16" cy="429.07" r="1.25" fill="#484848"/>
<circle cx="90.42" cy="390.28" r="1.25" fill="#484848"/>
<circle cx="91.53" cy="444.21" r="1.25" fill="#484848"/>
<circle cx="88.2" cy="431.38" r="1.25" fill="#484848"/>
<circle cx="93.19" cy="446.64" r="1.25" fill="#484848"/>
<circle cx="89.7" cy="417.14" r="1.25" fill="#484848"/>
<circle cx="90.26" cy="418.38" r="1.25" fill="#484848"/>
<circle cx="99.28" cy="391.47" r="1.25" fill="#484848"/>
<circle cx="86.9" cy="424.98" r="1.25" fill="#484848"/>
<circle cx="90.38" cy="427.02" r="1.25" fill="#484848"/>
<circle cx="89.57" cy="390.93" r="1.25" fill="#484848"/>
<circle cx="95.03" cy="387.83" r="1.25" fill="#484848"/>
<circle cx="92.16" cy="409.98" r="1.25" fill="#484848"/>
<ellipse cx="91.73" cy="391.93" rx="0.93" ry="0.35" fill="#fff" fill-opacity="0.8"/>
<ellipse cx="90.35" cy="392.2" rx="0.78" ry="0.58" fill="#fff" fill-opacity="0.8"/>
<ellipse cx="93.34" cy="437.65" rx="1.21" ry="0.56" fill="#fff" fill-opacity="0.8"/>
<ellipse cx="97.6" cy="398.45" rx="1" ry="0.33" fill="#fff" fill-opacity="0.8"/>
<ellipse cx="90.11" cy="409.56" rx="1.28" ry="0.31" fill="#fff" fill-opacity="0.8"/>
<ellipse cx="92.7" cy="429.59" rx="1" ry="0.4" fill="#fff" fill-opacity="0.8"/>
<ellipse cx="95.57" cy="400.62" rx="1.13" ry="0.38" fill="#fff" fill-opacity="0.8"/>
<ellipse cx="91.76" cy="411.82" rx="0.75" ry="0.44" fill="#fff" fill-opacity="0.8"/>
<ellipse cx="92.98" cy="399.64" rx="0.97" ry="0.34" fill="#fff" fill-opacity="0.8"/>
<ellipse cx="92.91" cy="391.4" rx="1.42" ry="0.43" fill="#fff" fill-opacity="0.8"/>
<ellipse cx="91.12" cy="388.11" rx="0.65" ry="0.35" fill="#fff" fill-opacity="0.8"/>
<ellipse cx="89.26" cy="429.12" rx="1.25" ry="0.42" fill="#fff" fill-opacity="0.8"/>
<ellipse cx="91.86" cy="418.77" rx="0.63" ry="0.43" fill="#fff" fill-opacity="0.8"/>
<ellipse cx="91.87" cy="401.09" rx="0.79" ry="0.56" fill="#fff" fill-opacity="0.8"/>
<ellipse cx="89.68" cy="387.4" rx="1.38" ry="0.47" fill="#fff" fill-opacity="0.8"/>
<ellipse cx="97.34" cy="391.04" rx="0.78" ry="0.56" fill="#fff" fill-opacity="0.8"/>
<ellipse cx="89.62" cy="414.57" rx="1.24" ry="0.46" fill="#fff" fill-opacity="0.8"/>
<ellipse cx="104.59" cy="390.36" rx="1.06" ry="0.41" fill="#fff" fill-opacity="0.8"/>
<ellipse cx="91.68" cy="425.4" rx="1.41" ry="0.33" fill="#fff" fill-opacity="0.8"/>
<ellipse cx="89.09" cy="437.13" rx="1.34" ry="0.45" fill="#fff" fill-opacity="0.8"/>
<ellipse cx="90.24" cy="459.24" rx="0.75" ry="0.34" fill="#fff" fill-opacity="0.8"/>
<ellipse cx="93.38" cy="430.49" rx="1.01" ry="0.51" fill="#fff" fill-opacity="0.8"/>
<polygon points="184.28,374.47 186.43,373.1 189.59,372.2 191.93,372.32 193.83,376.24 198.84,378.19 203.35,377.99 206.12,378.82 206.21,380.83 204.65,383.98 203.55,385.61 198.54,385.61 195.62,389.53 194.43,392.77 193.6,399.93 193.4,410 193.5,420.05 194.51,430.12 195.6,438.06 195.51,443.87 193.56,451.65 190.6,457.57 188.78,461.81 187.83,462.56 185.97,457.74 185.2,449.93 184.6,434.97 184.4,419.99 184.4,400 184.3,385" fill="#ea3a3a" stroke="none" transform="translate(0,0)"/>
<circle cx="194.54" cy="441.37" r="1.25" fill="#ea3a3a"/>
<circle cx="192.21" cy="442.33" r="1.25" fill="#ea3a3a"/>
<circle cx="189.81" cy="445.26" r="1.25" fill="#ea3a3a"/>
<circle cx="187.9" cy="422.33" r="1.25" fill="#ea3a3a"/>
<circle cx="185.51" cy="445.11" r="1.25" fill="#ea3a3a"/>
<circle cx="185.53" cy="389.41" r="1.25" fill="#ea3a3a"/>
<circle cx="188.09" cy="431.73" r="1.25" fill="#ea3a3a"/>
<circle cx="197.38" cy="379.48" r="1.25" fill="#ea3a3a"/>
<circle cx="186.08" cy="432.41" r="1.25" fill="#ea3a3a"/>
<circle cx="190.76" cy="389.32" r="1.25" fill="#ea3a3a"/>
<circle cx="194.86" cy="383.95" r="1.25" fill="#ea3a3a"/>
<circle cx="188.31" cy="451.14" r="1.25" fill="#ea3a3a"/>
<circle cx="191.25" cy="454.73" r="1.25" fill="#ea3a3a"/>
<circle cx="192.32" cy="407.14" r="1.25" fill="#ea3a3a"/>
<circle cx="184.57" cy="410.25" r="1.25" fill="#ea3a3a"/>
<circle cx="193.99" cy="447.97" r="1.25" fill="#ea3a3a"/>
<circle cx="194.55" cy="436.37" r="1.25" fill="#ea3a3a"/>
<circle cx="193.07" cy="379.13" r="1.25" fill="#ea3a3a"/>
<circle cx="194.95" cy="443.61" r="1.25" fill="#ea3a3a"/>
<circle cx="187.4" cy="373.22" r="1.25" fill="#ea3a3a"/>
<circle cx="186.24" cy="425.64" r="1.25" fill="#ea3a3a"/>
<circle cx="191.92" cy="394.87" r="1.25" fill="#ea3a3a"/>
<circle cx="189.38" cy="409.12" r="1.25" fill="#ea3a3a"/>
<circle cx="189.7" cy="415.04" r="1.25" fill="#ea3a3a"/>
<circle cx="194.74" cy="384.33" r="1.25" fill="#ea3a3a"/>
<circle cx="192.32" cy="399.43" r="1.25" fill="#ea3a3a"/>
<circle cx="192.82" cy="416.27" r="1.25" fill="#ea3a3a"/>
<circle cx="194.04" cy="376.47" r="1.25" fill="#ea3a3a"/>
<circle cx="185.97" cy="437.56" r="1.25" fill="#ea3a3a"/>
<circle cx="187.89" cy="458.7" r="1.25" fill="#ea3a3a"/>
<circle cx="185.68" cy="404.63" r="1.25" fill="#ea3a3a"/>
<circle cx="186.75" cy="428.98" r="1.25" fill="#ea3a3a"/>
<circle cx="197.8" cy="384.52" r="1.25" fill="#ea3a3a"/>
<circle cx="198.31" cy="380.18" r="1.25" fill="#ea3a3a"/>
<circle cx="185.81" cy="430.82" r="1.25" fill="#ea3a3a"/>
<circle cx="186.32" cy="448.1" r="1.25" fill="#ea3a3a"/>
<circle cx="185.28" cy="428.29" r="1.25" fill="#ea3a3a"/>
<circle cx="186.56" cy="458.33" r="1.25" fill="#ea3a3a"/>
<circle cx="189.9" cy="437" r="1.25" fill="#ea3a3a"/>
<circle cx="205.77" cy="378.92" r="1.25" fill="#ea3a3a"/>
<circle cx="185.33" cy="446.6" r="1.25" fill="#ea3a3a"/>
<circle cx="192.15" cy="376" r="1.25" fill="#ea3a3a"/>
<circle cx="191.5" cy="378.36" r="1.25" fill="#ea3a3a"/>
<circle cx="200.79" cy="381.73" r="1.25" fill="#ea3a3a"/>
<circle cx="195.12" cy="378.14" r="1.25" fill="#ea3a3a"/>
<circle cx="185.05" cy="419.25" r="1.25" fill="#ea3a3a"/>
<circle cx="186.88" cy="397.21" r="1.25" fill="#ea3a3a"/>
<circle cx="186.9" cy="423.7" r="1.25" fill="#ea3a3a"/>
<circle cx="192.58" cy="391.8" r="1.25" fill="#ea3a3a"/>
<circle cx="188.59" cy="423.29" r="1.25" fill="#ea3a3a"/>
<circle cx="187.19" cy="400.43" r="1.25" fill="#ea3a3a"/>
<circle cx="189.04" cy="424.06" r="1.25" fill="#ea3a3a"/>
<circle cx="187.79" cy="401.24" r="1.25" fill="#ea3a3a"/>
<circle cx="192.4" cy="411.92" r="1.25" fill="#ea3a3a"/>
<circle cx="187.21" cy="428.96" r="1.25" fill="#ea3a3a"/>
<circle cx="192.49" cy="376.84" r="1.25" fill="#ea3a3a"/>
<circle cx="186.03" cy="436.87" r="1.25" fill="#ea3a3a"/>
<circle cx="185.68" cy="405.15" r="1.25" fill="#ea3a3a"/>
<circle cx="190.31" cy="414.7" r="1.25" fill="#ea3a3a"/>
<circle cx="187.32" cy="432.28" r="1.25" fill="#ea3a3a"/>
<circle cx="186.16" cy="381.56" r="1.25" fill="#ea3a3a"/>
<circle cx="193.89" cy="389.87" r="1.25" fill="#ea3a3a"/>
<circle cx="185.53" cy="426.18" r="1.25" fill="#ea3a3a"/>
<circle cx="203.11" cy="379.28" r="1.25" fill="#ea3a3a"/>
<circle cx="186.45" cy="409.92" r="1.25" fill="#ea3a3a"/>
<circle cx="187.64" cy="461.45" r="1.25" fill="#ea3a3a"/>
<circle cx="192.47" cy="426.04" r="1.25" fill="#ea3a3a"/>
<circle cx="186.56" cy="453.22" r="1.25" fill="#ea3a3a"/>
<circle cx="187.89" cy="412.61" r="1.25" fill="#ea3a3a"/>
<circle cx="195.57" cy="382.27" r="1.25" fill="#ea3a3a"/>
<circle cx="189.31" cy="383.46" r="1.25" fill="#ea3a3a"/>
<circle cx="192.16" cy="450.17" r="1.25" fill="#ea3a3a"/>
<circle cx="190.58" cy="378.82" r="1.25" fill="#ea3a3a"/>
<circle cx="205.46" cy="379.44" r="1.25" fill="#ea3a3a"/>
<circle cx="192.39" cy="382.82" r="1.25" fill="#ea3a3a"/>
<circle cx="184.88" cy="383.34" r="1.25" fill="#ea3a3a"/>
<circle cx="185.9" cy="426.9" r="1.25" fill="#ea3a3a"/>
<circle cx="200.51" cy="385.52" r="1.25" fill="#ea3a3a"/>
<circle cx="195.37" cy="381.69" r="1.25" fill="#ea3a3a"/>
<circle cx="199.2" cy="382.73" r="1.25" fill="#ea3a3a"/>
<circle cx="191.68" cy="385.81" r="1.25" fill="#ea3a3a"/>
<circle cx="187.47" cy="388.19" r="1.25" fill="#ea3a3a"/>
<circle cx="185.93" cy="427.92" r="1.25" fill="#ea3a3a"/>
<circle cx="194.19" cy="445.43" r="1.25" fill="#ea3a3a"/>
<circle cx="194.19" cy="376.86" r="1.25" fill="#ea3a3a"/>
<circle cx="189.86" cy="437.82" r="1.25" fill="#ea3a3a"/>
<circle cx="192.47" cy="428.81" r="1.25" fill="#ea3a3a"/>
<circle cx="185.72" cy="448.38" r="1.25" fill="#ea3a3a"/>
<circle cx="192.21" cy="448.11" r="1.25" fill="#ea3a3a"/>
<circle cx="186.81" cy="432.83" r="1.25" fill="#ea3a3a"/>
<circle cx="203.34" cy="380.79" r="1.25" fill="#ea3a3a"/>
<circle cx="184.97" cy="382.38" r="1.25" fill="#ea3a3a"/>
<circle cx="193.76" cy="394.78" r="1.25" fill="#ea3a3a"/>
<circle cx="196.13" cy="386.92" r="1.25" fill="#ea3a3a"/>
<circle cx="188.31" cy="399.29" r="1.25" fill="#ea3a3a"/>
<circle cx="186.97" cy="376.57" r="1.25" fill="#ea3a3a"/>
<circle cx="185.44" cy="452.01" r="1.25" fill="#ea3a3a"/>
<circle cx="191.83" cy="388.28" r="1.25" fill="#ea3a3a"/>
<circle cx="187.67" cy="456.57" r="1.25" fill="#ea3a3a"/>
<circle cx="188.57" cy="406.69" r="1.25" fill="#ea3a3a"/>
<circle cx="198.98" cy="379.29" r="1.25" fill="#ea3a3a"/>
<circle cx="193.57" cy="425.19" r="1.25" fill="#ea3a3a"/>
<circle cx="189.73" cy="430.14" r="1.25" fill="#ea3a3a"/>
<circle cx="189.32" cy="395.73" r="1.25" fill="#ea3a3a"/>
<circle cx="193.48" cy="405.46" r="1.25" fill="#ea3a3a"/>
<circle cx="189.93" cy="431.21" r="1.25" fill="#ea3a3a"/>
<circle cx="190.9" cy="432.46" r="1.25" fill="#ea3a3a"/>
<circle cx="195.43" cy="378.41" r="1.25" fill="#ea3a3a"/>
<circle cx="185.96" cy="411.71" r="1.25" fill="#ea3a3a"/>
<circle cx="196.05" cy="387.5" r="1.25" fill="#ea3a3a"/>
<circle cx="189.65" cy="399.76" r="1.25" fill="#ea3a3a"/>
<circle cx="192.58" cy="425.99" r="1.25" fill="#ea3a3a"/>
<circle cx="195.14" cy="438.33" r="1.25" fill="#ea3a3a"/>
<circle cx="186.95" cy="443.59" r="1.25" fill="#ea3a3a"/>
<circle cx="204.85" cy="381.11" r="1.25" fill="#ea3a3a"/>
<circle cx="202.28" cy="383.69" r="1.25" fill="#ea3a3a"/>
<circle cx="186.12" cy="408.01" r="1.25" fill="#ea3a3a"/>
<circle cx="194.98" cy="377.64" r="1.25" fill="#ea3a3a"/>
<circle cx="189.88" cy="387.4" r="1.25" fill="#ea3a3a"/>
<circle cx="186.51" cy="380.32" r="1.25" fill="#ea3a3a"/>
<circle cx="191.12" cy="409.98" r="1.25" fill="#ea3a3a"/>
<circle cx="187.53" cy="381.63" r="1.25" fill="#ea3a3a"/>
<circle cx="199.3" cy="384.06" r="1.25" fill="#ea3a3a"/>
<circle cx="188.62" cy="403.67" r="1.25" fill="#ea3a3a"/>
<circle cx="187.89" cy="455.49" r="1.25" fill="#ea3a3a"/>
<circle cx="192.77" cy="424.49" r="1.25" fill="#ea3a3a"/>
<circle cx="186.14" cy="430.69" r="1.25" fill="#ea3a3a"/>
<circle cx="191.91" cy="437.02" r="1.25" fill="#ea3a3a"/>
<circle cx="193.13" cy="425.6" r="1.25" fill="#ea3a3a"/>
<circle cx="190.58" cy="425.63" r="1.25" fill="#ea3a3a"/>
<circle cx="194.58" cy="380.81" r="1.25" fill="#ea3a3a"/>
<circle cx="194.77" cy="377.72" r="1.25" fill="#ea3a3a"/>
<circle cx="197.32" cy="381.81" r="1.25" fill="#ea3a3a"/>
<circle cx="191.58" cy="431.3" r="1.25" fill="#ea3a3a"/>
<circle cx="189.61" cy="443.38" r="1.25" fill="#ea3a3a"/>
<circle cx="187.47" cy="449.51" r="1.25" fill="#ea3a3a"/>
<circle cx="191.72" cy="372.65" r="1.25" fill="#ea3a3a"/>
<circle cx="194.54" cy="390.2" r="1.25" fill="#ea3a3a"/>
<circle cx="184.47" cy="391.77" r="1.25" fill="#ea3a3a"/>
<circle cx="191.82" cy="405.34" r="1.25" fill="#ea3a3a"/>
<circle cx="192.15" cy="440.99" r="1.25" fill="#ea3a3a"/>
<circle cx="187.84" cy="446.57" r="1.25" fill="#ea3a3a"/>
<circle cx="188.09" cy="461.39" r="1.25" fill="#ea3a3a"/>
<circle cx="203.73" cy="378.25" r="1.25" fill="#ea3a3a"/>
<circle cx="185.24" cy="433.56" r="1.25" fill="#ea3a3a"/>
<circle cx="191.19" cy="432.98" r="1.25" fill="#ea3a3a"/>
<circle cx="193.83" cy="442.05" r="1.25" fill="#ea3a3a"/>
<circle cx="191.09" cy="421.29" r="1.25" fill="#ea3a3a"/>
<circle cx="190.38" cy="426.63" r="1.25" fill="#ea3a3a"/>
<circle cx="188.25" cy="409.34" r="1.25" fill="#ea3a3a"/>
<circle cx="188.06" cy="436.01" r="1.25" fill="#ea3a3a"/>
<circle cx="190.05" cy="398.97" r="1.25" fill="#ea3a3a"/>
<circle cx="193.77" cy="389.33" r="1.25" fill="#ea3a3a"/>
<circle cx="188.86" cy="411.02" r="1.25" fill="#ea3a3a"/>
<circle cx="190.82" cy="437.98" r="1.25" fill="#ea3a3a"/>
<circle cx="193" cy="404.28" r="1.25" fill="#ea3a3a"/>
<circle cx="193.06" cy="397.61" r="1.25" fill="#ea3a3a"/>
<circle cx="184.85" cy="420.57" r="1.25" fill="#ea3a3a"/>
<circle cx="188.34" cy="399.38" r="1.25" fill="#ea3a3a"/>
<circle cx="191.66" cy="383.87" r="1.25" fill="#ea3a3a"/>
<circle cx="201.97" cy="383.2" r="1.25" fill="#ea3a3a"/>
<circle cx="198.41" cy="379.17" r="1.25" fill="#ea3a3a"/>
<circle cx="190.85" cy="389.81" r="1.25" fill="#ea3a3a"/>
<circle cx="192.44" cy="423.24" r="1.25" fill="#ea3a3a"/>
<circle cx="189.23" cy="386.76" r="1.25" fill="#ea3a3a"/>
<circle cx="187.51" cy="404.21" r="1.25" fill="#ea3a3a"/>
<circle cx="190.12" cy="443.22" r="1.25" fill="#ea3a3a"/>
<circle cx="187.11" cy="382.85" r="1.25" fill="#ea3a3a"/>
<circle cx="186.02" cy="446.53" r="1.25" fill="#ea3a3a"/>
<circle cx="192.99" cy="419.05" r="1.25" fill="#ea3a3a"/>
<circle cx="188.99" cy="456.84" r="1.25" fill="#ea3a3a"/>
<circle cx="189.19" cy="451.64" r="1.25" fill="#ea3a3a"/>
<circle cx="193.43" cy="418.16" r="1.25" fill="#ea3a3a"/>
<circle cx="185.84" cy="418.45" r="1.25" fill="#ea3a3a"/>
<circle cx="191.23" cy="427.76" r="1.25" fill="#ea3a3a"/>
<circle cx="199.71" cy="380.48" r="1.25" fill="#ea3a3a"/>
<circle cx="188.2" cy="433.82" r="1.25" fill="#ea3a3a"/>
<circle cx="188.09" cy="385.93" r="1.25" fill="#ea3a3a"/>
<circle cx="189.15" cy="384.62" r="1.25" fill="#ea3a3a"/>
<circle cx="188.95" cy="452.53" r="1.25" fill="#ea3a3a"/>
<circle cx="186.05" cy="445.49" r="1.25" fill="#ea3a3a"/>
<circle cx="192.86" cy="439.7" r="1.25" fill="#ea3a3a"/>
<circle cx="184.44" cy="398.52" r="1.25" fill="#ea3a3a"/>
<circle cx="196.17" cy="381.02" r="1.25" fill="#ea3a3a"/>
<circle cx="189.43" cy="429.76" r="1.25" fill="#ea3a3a"/>
<circle cx="192.04" cy="399.37" r="1.25" fill="#ea3a3a"/>
<circle cx="192.89" cy="430.11" r="1.25" fill="#ea3a3a"/>
<circle cx="188.07" cy="425.32" r="1.25" fill="#ea3a3a"/>
<circle cx="188.86" cy="418.42" r="1.25" fill="#ea3a3a"/>
<circle cx="188.61" cy="380.86" r="1.25" fill="#ea3a3a"/>
<circle cx="188.46" cy="430.22" r="1.25" fill="#ea3a3a"/>
<circle cx="193.68" cy="376.02" r="1.25" fill="#ea3a3a"/>
<circle cx="186" cy="437.94" r="1.25" fill="#ea3a3a"/>
<circle cx="188.09" cy="403.19" r="1.25" fill="#ea3a3a"/>
<circle cx="193.02" cy="400.98" r="1.25" fill="#ea3a3a"/>
<circle cx="193.56" cy="401.7" r="1.25" fill="#ea3a3a"/>
<circle cx="193.23" cy="395.34" r="1.25" fill="#ea3a3a"/>
<circle cx="190.88" cy="411.83" r="1.25" fill="#ea3a3a"/>
<circle cx="189.84" cy="439.14" r="1.25" fill="#ea3a3a"/>
<circle cx="189.21" cy="394.21" r="1.25" fill="#ea3a3a"/>
<circle cx="187.04" cy="376.04" r="1.25" fill="#ea3a3a"/>
<circle cx="189.06" cy="381.96" r="1.25" fill="#ea3a3a"/>
<circle cx="186.42" cy="449.4" r="1.25" fill="#ea3a3a"/>
<circle cx="186.83" cy="393.78" r="1.25" fill="#ea3a3a"/>
<circle cx="188.54" cy="451.58" r="1.25" fill="#ea3a3a"/>
<circle cx="194.14" cy="445.88" r="1.25" fill="#ea3a3a"/>
<circle cx="190.83" cy="439.03" r="1.25" fill="#ea3a3a"/>
<circle cx="187.23" cy="384.31" r="1.25" fill="#ea3a3a"/>
<circle cx="187.01" cy="387.64" r="1.25" fill="#ea3a3a"/>
<circle cx="186.12" cy="379.64" r="1.25" fill="#ea3a3a"/>
<circle cx="187.27" cy="391.12" r="1.25" fill="#ea3a3a"/>
<circle cx="191.86" cy="452.05" r="1.25" fill="#ea3a3a"/>
<circle cx="191.24" cy="434.5" r="1.25" fill="#ea3a3a"/>
<circle cx="185.24" cy="419.46" r="1.25" fill="#ea3a3a"/>
<circle cx="186.15" cy="382.69" r="1.25" fill="#ea3a3a"/>
<circle cx="184.78" cy="420.7" r="1.25" fill="#ea3a3a"/>
<circle cx="190.28" cy="412.84" r="1.25" fill="#ea3a3a"/>
<circle cx="193.01" cy="449.08" r="1.25" fill="#ea3a3a"/>
<circle cx="189.05" cy="410.5" r="1.25" fill="#ea3a3a"/>
<circle cx="192.18" cy="422.16" r="1.25" fill="#ea3a3a"/>
<circle cx="192.17" cy="440.43" r="1.25" fill="#ea3a3a"/>
<circle cx="188.09" cy="415.51" r="1.25" fill="#ea3a3a"/>
<circle cx="193.42" cy="412.42" r="1.25" fill="#ea3a3a"/>
<circle cx="193.43" cy="404.82" r="1.25" fill="#ea3a3a"/>
<circle cx="192.16" cy="390.48" r="1.25" fill="#ea3a3a"/>
<circle cx="186.83" cy="427.45" r="1.25" fill="#ea3a3a"/>
<circle cx="186.65" cy="416.73" r="1.25" fill="#ea3a3a"/>
<circle cx="187.63" cy="449.67" r="1.25" fill="#ea3a3a"/>
<circle cx="190.54" cy="443.95" r="1.25" fill="#ea3a3a"/>
<circle cx="195.57" cy="379.41" r="1.25" fill="#ea3a3a"/>
<circle cx="188.63" cy="417.45" r="1.25" fill="#ea3a3a"/>
<circle cx="185.81" cy="413.98" r="1.25" fill="#ea3a3a"/>
<circle cx="193.63" cy="433.75" r="1.25" fill="#ea3a3a"/>
<circle cx="190.09" cy="389.95" r="1.25" fill="#ea3a3a"/>
<circle cx="190.69" cy="431.94" r="1.25" fill="#ea3a3a"/>
<circle cx="196.46" cy="386.92" r="1.25" fill="#ea3a3a"/>
<circle cx="189.23" cy="437.78" r="1.25" fill="#ea3a3a"/>
<circle cx="191.27" cy="437.06" r="1.25" fill="#ea3a3a"/>
<circle cx="203.57" cy="382.2" r="1.25" fill="#ea3a3a"/>
<circle cx="187.08" cy="430.65" r="1.25" fill="#ea3a3a"/>
<circle cx="190" cy="407.45" r="1.25" fill="#ea3a3a"/>
<circle cx="194.37" cy="388.99" r="1.25" fill="#ea3a3a"/>
<circle cx="194.19" cy="433.65" r="1.25" fill="#ea3a3a"/>
<circle cx="187.38" cy="431.51" r="1.25" fill="#ea3a3a"/>
<circle cx="186.1" cy="409.97" r="1.25" fill="#ea3a3a"/>
<circle cx="195.01" cy="380.89" r="1.25" fill="#ea3a3a"/>
<circle cx="184.68" cy="397.15" r="1.25" fill="#ea3a3a"/>
<circle cx="185.35" cy="426.19" r="1.25" fill="#ea3a3a"/>
<circle cx="190.47" cy="417.29" r="1.25" fill="#ea3a3a"/>
<circle cx="187.9" cy="442.89" r="1.25" fill="#ea3a3a"/>
<circle cx="191.48" cy="442.54" r="1.25" fill="#ea3a3a"/>
<circle cx="192.72" cy="388.07" r="1.25" fill="#ea3a3a"/>
<circle cx="193.59" cy="394.23" r="1.25" fill="#ea3a3a"/>
<circle cx="192.12" cy="383.51" r="1.25" fill="#ea3a3a"/>
<circle cx="187.34" cy="453.08" r="1.25" fill="#ea3a3a"/>
<circle cx="185.82" cy="378" r="1.25" fill="#ea3a3a"/>
<circle cx="194.49" cy="435.09" r="1.25" fill="#ea3a3a"/>
<circle cx="187.83" cy="394.57" r="1.25" fill="#ea3a3a"/>
<circle cx="198.23" cy="381.9" r="1.25" fill="#ea3a3a"/>
<circle cx="184.73" cy="383.54" r="1.25" fill="#ea3a3a"/>
<circle cx="201.47" cy="385.47" r="1.25" fill="#ea3a3a"/>
<circle cx="189.65" cy="447.08" r="1.25" fill="#ea3a3a"/>
<circle cx="192.33" cy="427.83" r="1.25" fill="#ea3a3a"/>
<circle cx="190.5" cy="457.32" r="1.25" fill="#ea3a3a"/>
<circle cx="188.43" cy="438.44" r="1.25" fill="#ea3a3a"/>
<circle cx="193.15" cy="390.43" r="1.25" fill="#ea3a3a"/>
<circle cx="189.44" cy="453.94" r="1.25" fill="#ea3a3a"/>
<circle cx="184.92" cy="377.02" r="1.25" fill="#ea3a3a"/>
<circle cx="194.05" cy="376.66" r="1.25" fill="#ea3a3a"/>
<circle cx="187.06" cy="406.99" r="1.25" fill="#ea3a3a"/>
<circle cx="188.71" cy="390.48" r="1.25" fill="#ea3a3a"/>
<circle cx="185.65" cy="379.26" r="1.25" fill="#ea3a3a"/>
<circle cx="188.32" cy="387.81" r="1.25" fill="#ea3a3a"/>
<circle cx="185.94" cy="406.15" r="1.25" fill="#ea3a3a"/>
<circle cx="186.01" cy="375.78" r="1.25" fill="#ea3a3a"/>
<circle cx="186.75" cy="428.42" r="1.25" fill="#ea3a3a"/>
<circle cx="187.27" cy="451.46" r="1.25" fill="#ea3a3a"/>
<circle cx="191.45" cy="433.96" r="1.25" fill="#ea3a3a"/>
<circle cx="190.95" cy="398.43" r="1.25" fill="#ea3a3a"/>
<circle cx="185.59" cy="443.65" r="1.25" fill="#ea3a3a"/>
<circle cx="193.76" cy="392.32" r="1.25" fill="#ea3a3a"/>
<circle cx="189.05" cy="443.44" r="1.25" fill="#ea3a3a"/>
<circle cx="188.1" cy="430.55" r="1.25" fill="#ea3a3a"/>
<circle cx="187.41" cy="407.21" r="1.25" fill="#ea3a3a"/>
<circle cx="185.93" cy="374.84" r="1.25" fill="#ea3a3a"/>
<circle cx="187.93" cy="386.96" r="1.25" fill="#ea3a3a"/>
<circle cx="185.46" cy="433.73" r="1.25" fill="#ea3a3a"/>
<circle cx="189.2" cy="431.23" r="1.25" fill="#ea3a3a"/>
<circle cx="194.22" cy="392.89" r="1.25" fill="#ea3a3a"/>
<circle cx="191.58" cy="373.84" r="1.25" fill="#ea3a3a"/>
<circle cx="203.94" cy="382.41" r="1.25" fill="#ea3a3a"/>
<circle cx="193.78" cy="389.68" r="1.25" fill="#ea3a3a"/>
<circle cx="189.08" cy="445.95" r="1.25" fill="#ea3a3a"/>
<circle cx="187.98" cy="377.67" r="1.25" fill="#ea3a3a"/>
<circle cx="188.66" cy="454.18" r="1.25" fill="#ea3a3a"/>
<circle cx="195.08" cy="385.62" r="1.25" fill="#ea3a3a"/>
<circle cx="186.59" cy="423.75" r="1.25" fill="#ea3a3a"/>
<circle cx="187.08" cy="421.15" r="1.25" fill="#ea3a3a"/>
<circle cx="187.16" cy="384.58" r="1.25" fill="#ea3a3a"/>
<circle cx="193.22" cy="393.63" r="1.25" fill="#ea3a3a"/>
<ellipse cx="187.05" cy="435.88" rx="0.67" ry="0.37" fill="#fff" fill-opacity="0.8"/>
<ellipse cx="188.5" cy="447.24" rx="0.68" ry="0.37" fill="#fff" fill-opacity="0.8"/>
<ellipse cx="192.6" cy="382.47" rx="0.82" ry="0.6" fill="#fff" fill-opacity="0.8"/>
<ellipse cx="191.71" cy="434.66" rx="1.02" ry="0.49" fill="#fff" fill-opacity="0.8"/>
<ellipse cx="187.4" cy="378.01" rx="1.39" ry="0.45" fill="#fff" fill-opacity="0.8"/>
<ellipse cx="187.24" cy="441.26" rx="0.68" ry="0.51" fill="#fff" fill-opacity="0.8"/>
<ellipse cx="188.62" cy="385.76" rx="1.04" ry="0.45" fill="#fff" fill-opacity="0.8"/>
<ellipse cx="189.11" cy="394.23" rx="0.61" ry="0.4" fill="#fff" fill-opacity="0.8"/>
<ellipse cx="190.14" cy="410.46" rx="0.92" ry="0.55" fill="#fff" fill-opacity="0.8"/>
<ellipse cx="192.97" cy="387.21" rx="1.16" ry="0.59" fill="#fff" fill-opacity="0.8"/>
<ellipse cx="188.71" cy="441.46" rx="0.85" ry="0.3" fill="#fff" fill-opacity="0.8"/>
<ellipse cx="188.02" cy="411.56" rx="0.79" ry="0.42" fill="#fff" fill-opacity="0.8"/>
<ellipse cx="186.62" cy="419.27" rx="0.9" ry="0.54" fill="#fff" fill-opacity="0.8"/>
<ellipse cx="193.97" cy="379.73" rx="1.11" ry="0.45" fill="#fff" fill-opacity="0.8"/>
<ellipse cx="194.66" cy="386.16" rx="0.7" ry="0.47" fill="#fff" fill-opacity="0.8"/>
<ellipse cx="194.21" cy="383.62" rx="0.97" ry="0.52" fill="#fff" fill-opacity="0.8"/>
<ellipse cx="189.23" cy="390.04" rx="0.97" ry="0.33" fill="#fff" fill-opacity="0.8"/>
<ellipse cx="189.32" cy="419.7" rx="1.22" ry="0.49" fill="#fff" fill-opacity="0.8"/>
<ellipse cx="189.19" cy="398.98" rx="1.06" ry="0.59" fill="#fff" fill-opacity="0.8"/>
<ellipse cx="190.65" cy="427.59" rx="1.31" ry="0.51" fill="#fff" fill-opacity="0.8"/>
<ellipse cx="190.22" cy="410.12" rx="0.7" ry="0.55" fill="#fff" fill-opacity="0.8"/>
<ellipse cx="190.29" cy="398.55" rx="1.28" ry="0.45" fill="#fff" fill-opacity="0.8"/>
<ellipse cx="190.37" cy="452.47" rx="0.95" ry="0.41" fill="#fff" fill-opacity="0.8"/>
<ellipse cx="187.28" cy="427.34" rx="1.18" ry="0.33" fill="#fff" fill-opacity="0.8"/>
<ellipse cx="191.3" cy="375.69" rx="1.37" ry="0.56" fill="#fff" fill-opacity="0.8"/>
<ellipse cx="191.29" cy="399" rx="0.9" ry="0.4" fill="#fff" fill-opacity="0.8"/>
<ellipse cx="195.69" cy="382.5" rx="1.21" ry="0.4" fill="#fff" fill-opacity="0.8"/>
<ellipse cx="187.79" cy="395.23" rx="0.93" ry="0.43" fill="#fff" fill-opacity="0.8"/>
<ellipse cx="201.44" cy="381.21" rx="0.79" ry="0.39" fill="#fff" fill-opacity="0.8"/>
<ellipse cx="188.16" cy="439.91" rx="0.69" ry="0.32" fill="#fff" fill-opacity="0.8"/>
<circle cx="194.3" cy="370.4" r="1.2" fill="#ea3a3a"/>
<line x1="36.2" y1="360.95" x2="36.2" y2="479.55" stroke="#1a1a1a" stroke-width="1.1"/>
<line x1="35.65" y1="479" x2="232.6" y2="479" stroke="#1a1a1a" stroke-width="1.1"/>
<line x1="33.6" y1="462.3" x2="36.2" y2="462.3" stroke="#1a1a1a" stroke-width="1.1"/>
<text x="32" y="466.2" font-size="11.6" text-anchor="end">-20</text>
<line x1="34.8" y1="445.5" x2="36.2" y2="445.5" stroke="#1a1a1a" stroke-width="1.1"/>
<line x1="33.6" y1="428.7" x2="36.2" y2="428.7" stroke="#1a1a1a" stroke-width="1.1"/>
<text x="32" y="432.6" font-size="11.6" text-anchor="end">0</text>
<line x1="34.8" y1="411.9" x2="36.2" y2="411.9" stroke="#1a1a1a" stroke-width="1.1"/>
<line x1="33.6" y1="395.1" x2="36.2" y2="395.1" stroke="#1a1a1a" stroke-width="1.1"/>
<text x="32" y="399" font-size="11.6" text-anchor="end">20</text>
<line x1="34.8" y1="378.3" x2="36.2" y2="378.3" stroke="#1a1a1a" stroke-width="1.1"/>
<line x1="33.6" y1="361.5" x2="36.2" y2="361.5" stroke="#1a1a1a" stroke-width="1.1"/>
<text x="32" y="365.4" font-size="11.6" text-anchor="end">40</text>
<line x1="85.6" y1="479" x2="85.6" y2="481.2" stroke="#1a1a1a" stroke-width="1.1"/>
<line x1="183.2" y1="479" x2="183.2" y2="481.2" stroke="#1a1a1a" stroke-width="1.1"/>
<text transform="translate(13.3,420.1) rotate(-90)" font-size="11.6" text-anchor="middle">Range</text>
<text x="54.8" y="498" font-size="11.2" text-anchor="start">simulated values</text>
<text x="154.7" y="497.4" font-size="11.2" text-anchor="start">measured values</text>
<text x="68.4" y="523.3" font-size="11.1" text-anchor="start">e.Box plot of simulated and</text>
<text x="68.4" y="542.7" font-size="11.1" text-anchor="start">measured monthly LST</text>
<polyline points="320.21,372.6 320.28,374.12 320.37,375.65 320.47,377.17 320.6,378.69 320.76,380.22 320.95,381.74 321.19,383.26 321.46,384.79 321.79,386.31 322.17,387.83 322.62,389.36 323.12,390.88 323.69,392.4 324.32,393.93 325.03,395.45 325.79,396.97 326.62,398.5 327.5,400.02 328.43,401.54 329.39,403.07 330.37,404.59 331.36,406.11 332.34,407.64 333.28,409.16 334.18,410.68 335.01,412.21 335.75,413.73 336.39,415.25 336.91,416.78 337.3,418.3 337.55,419.82 337.65,421.35 337.6,422.87 337.4,424.39 337.06,425.92 336.58,427.44 335.98,428.96 335.27,430.49 334.46,432.01 333.59,433.53 332.66,435.06 331.69,436.58 330.7,438.1 329.72,439.63 328.75,441.15 327.81,442.67 326.91,444.2 326.06,445.72 325.28,447.24 324.55,448.77 323.89,450.29 323.3,451.81 322.78,453.34 322.31,454.86 321.91,456.38 321.57,457.91 321.27,459.43 321.03,460.95 320.82,462.48 320.65,464" fill="none" stroke="#555555" stroke-width="0.8" stroke-linejoin="round"/>
<polyline points="419.92,370 420.33,371.43 420.8,372.85 421.32,374.27 421.9,375.7 422.54,377.12 423.23,378.55 423.98,379.98 424.77,381.4 425.6,382.82 426.47,384.25 427.36,385.68 428.26,387.1 429.16,388.52 430.04,389.95 430.89,391.38 431.69,392.8 432.44,394.23 433.1,395.65 433.68,397.07 434.16,398.5 434.52,399.93 434.77,401.35 434.89,402.77 434.88,404.2 434.74,405.62 434.48,407.05 434.11,408.48 433.62,409.9 433.03,411.32 432.35,412.75 431.6,414.18 430.79,415.6 429.93,417.02 429.05,418.45 428.15,419.88 427.25,421.3 426.36,422.73 425.5,424.15 424.67,425.57 423.88,427 423.15,428.43 422.46,429.85 421.83,431.27 421.25,432.7 420.74,434.12 420.28,435.55 419.87,436.98 419.51,438.4 419.2,439.82 418.94,441.25 418.71,442.68 418.52,444.1 418.36,445.52 418.23,446.95 418.12,448.38 418.03,449.8 417.96,451.23 417.9,452.65 417.85,454.07 417.82,455.5" fill="none" stroke="#f06060" stroke-width="0.8" stroke-linejoin="round"/>
<line x1="305" y1="395.6" x2="305" y2="408.4" stroke="#a0a0a0" stroke-width="0.9"/>
<line x1="305" y1="431.6" x2="305" y2="458.9" stroke="#a0a0a0" stroke-width="0.9"/>
<line x1="300" y1="395.6" x2="309.8" y2="395.6" stroke="#a0a0a0" stroke-width="0.9"/>
<line x1="300" y1="458.9" x2="309.8" y2="458.9" stroke="#a0a0a0" stroke-width="0.9"/>
<rect x="291" y="408.4" width="27.8" height="23.2" fill="#fdc896" stroke="#a0a0a0" stroke-width="0.9"/>
<line x1="291" y1="420.5" x2="318.8" y2="420.5" stroke="#a0a0a0" stroke-width="1.0"/>
<circle cx="305" cy="421" r="0.6" fill="#a0a0a0"/>
<line x1="402.4" y1="375.3" x2="402.4" y2="395.1" stroke="#f08a8a" stroke-width="0.9"/>
<line x1="402.4" y1="416.4" x2="402.4" y2="433.1" stroke="#f08a8a" stroke-width="0.9"/>
<line x1="397.8" y1="375.3" x2="407.2" y2="375.3" stroke="#f08a8a" stroke-width="0.9"/>
<line x1="397.8" y1="433.1" x2="407.2" y2="433.1" stroke="#f08a8a" stroke-width="0.9"/>
<rect x="388.4" y="395.1" width="28" height="21.3" fill="#a2d8a0" stroke="#f08a8a" stroke-width="0.9"/>
<line x1="388.4" y1="406" x2="416.4" y2="406" stroke="#f08a8a" stroke-width="1.0"/>
<circle cx="402.4" cy="408.5" r="0.6" fill="#f08a8a"/>
<rect x="318.35" y="394.15" width="3.3" height="3.3" fill="#000" transform="rotate(45 320 395.8)"/>
<rect x="325.05" y="396.05" width="3.3" height="3.3" fill="#000" transform="rotate(45 326.7 397.7)"/>
<rect x="329.15" y="399.25" width="3.3" height="3.3" fill="#000" transform="rotate(45 330.8 400.9)"/>
<rect x="319.15" y="400.35" width="3.3" height="3.3" fill="#000" transform="rotate(45 320.8 402)"/>
<rect x="322.25" y="400.05" width="3.3" height="3.3" fill="#000" transform="rotate(45 323.9 401.7)"/>
<rect x="325.35" y="401.85" width="3.3" height="3.3" fill="#000" transform="rotate(45 327 403.5)"/>
<rect x="320.75" y="403.45" width="3.3" height="3.3" fill="#000" transform="rotate(45 322.4 405.1)"/>
<rect x="323.75" y="404.95" width="3.3" height="3.3" fill="#000" transform="rotate(45 325.4 406.6)"/>
<rect x="328.45" y="404.15" width="3.3" height="3.3" fill="#000" transform="rotate(45 330.1 405.8)"/>
<rect x="333.85" y="406.25" width="3.3" height="3.3" fill="#000" transform="rotate(45 335.5 407.9)"/>
<rect x="319.15" y="406.55" width="3.3" height="3.3" fill="#000" transform="rotate(45 320.8 408.2)"/>
<rect x="322.25" y="408.05" width="3.3" height="3.3" fill="#000" transform="rotate(45 323.9 409.7)"/>
<rect x="326.85" y="408.05" width="3.3" height="3.3" fill="#000" transform="rotate(45 328.5 409.7)"/>
<rect x="318.35" y="413.45" width="3.3" height="3.3" fill="#000" transform="rotate(45 320 415.1)"/>
<rect x="320.75" y="414.25" width="3.3" height="3.3" fill="#000" transform="rotate(45 322.4 415.9)"/>
<rect x="331.55" y="413.45" width="3.3" height="3.3" fill="#000" transform="rotate(45 333.2 415.1)"/>
<rect x="329.95" y="415.75" width="3.3" height="3.3" fill="#000" transform="rotate(45 331.6 417.4)"/>
<rect x="327.65" y="418.05" width="3.3" height="3.3" fill="#000" transform="rotate(45 329.3 419.7)"/>
<rect x="319.15" y="419.65" width="3.3" height="3.3" fill="#000" transform="rotate(45 320.8 421.3)"/>
<rect x="323.05" y="420.45" width="3.3" height="3.3" fill="#000" transform="rotate(45 324.7 422.1)"/>
<rect x="325.35" y="421.95" width="3.3" height="3.3" fill="#000" transform="rotate(45 327 423.6)"/>
<rect x="318.35" y="423.55" width="3.3" height="3.3" fill="#000" transform="rotate(45 320 425.2)"/>
<rect x="331.55" y="424.25" width="3.3" height="3.3" fill="#000" transform="rotate(45 333.2 425.9)"/>
<rect x="321.45" y="425.85" width="3.3" height="3.3" fill="#000" transform="rotate(45 323.1 427.5)"/>
<rect x="319.15" y="428.95" width="3.3" height="3.3" fill="#000" transform="rotate(45 320.8 430.6)"/>
<rect x="327.65" y="429.65" width="3.3" height="3.3" fill="#000" transform="rotate(45 329.3 431.3)"/>
<rect x="329.95" y="431.25" width="3.3" height="3.3" fill="#000" transform="rotate(45 331.6 432.9)"/>
<rect x="326.15" y="432.75" width="3.3" height="3.3" fill="#000" transform="rotate(45 327.8 434.4)"/>
<rect x="319.95" y="433.55" width="3.3" height="3.3" fill="#000" transform="rotate(45 321.6 435.2)"/>
<rect x="322.25" y="435.05" width="3.3" height="3.3" fill="#000" transform="rotate(45 323.9 436.7)"/>
<rect x="319.15" y="437.45" width="3.3" height="3.3" fill="#000" transform="rotate(45 320.8 439.1)"/>
<rect x="324.55" y="438.15" width="3.3" height="3.3" fill="#000" transform="rotate(45 326.2 439.8)"/>
<rect x="323.75" y="440.45" width="3.3" height="3.3" fill="#000" transform="rotate(45 325.4 442.1)"/>
<rect x="319.95" y="444.35" width="3.3" height="3.3" fill="#000" transform="rotate(45 321.6 446)"/>
<rect x="322.25" y="445.85" width="3.3" height="3.3" fill="#000" transform="rotate(45 323.9 447.5)"/>
<rect x="319.15" y="452.05" width="3.3" height="3.3" fill="#000" transform="rotate(45 320.8 453.7)"/>
<rect x="318.35" y="454.35" width="3.3" height="3.3" fill="#000" transform="rotate(45 320 456)"/>
<rect x="319.15" y="457.45" width="3.3" height="3.3" fill="#000" transform="rotate(45 320.8 459.1)"/>
<rect x="320.85" y="397.85" width="3.3" height="3.3" fill="#000" transform="rotate(45 322.5 399.5)"/>
<rect x="322.85" y="402.35" width="3.3" height="3.3" fill="#000" transform="rotate(45 324.5 404)"/>
<rect x="319.35" y="410.35" width="3.3" height="3.3" fill="#000" transform="rotate(45 321 412)"/>
<rect x="323.35" y="410.85" width="3.3" height="3.3" fill="#000" transform="rotate(45 325 412.5)"/>
<rect x="332.35" y="409.35" width="3.3" height="3.3" fill="#000" transform="rotate(45 334 411)"/>
<rect x="330.35" y="419.35" width="3.3" height="3.3" fill="#000" transform="rotate(45 332 421)"/>
<rect x="320.35" y="416.85" width="3.3" height="3.3" fill="#000" transform="rotate(45 322 418.5)"/>
<rect x="324.35" y="415.35" width="3.3" height="3.3" fill="#000" transform="rotate(45 326 417)"/>
<rect x="327.85" y="411.35" width="3.3" height="3.3" fill="#000" transform="rotate(45 329.5 413)"/>
<rect x="322.35" y="427.85" width="3.3" height="3.3" fill="#000" transform="rotate(45 324 429.5)"/>
<rect x="328.35" y="426.35" width="3.3" height="3.3" fill="#000" transform="rotate(45 330 428)"/>
<rect x="320.85" y="430.85" width="3.3" height="3.3" fill="#000" transform="rotate(45 322.5 432.5)"/>
<rect x="415.85" y="373.55" width="3.3" height="3.3" fill="#ff0000" transform="rotate(45 417.5 375.2)"/>
<rect x="418.55" y="373.15" width="3.3" height="3.3" fill="#ff0000" transform="rotate(45 420.2 374.8)"/>
<rect x="420.65" y="374.25" width="3.3" height="3.3" fill="#ff0000" transform="rotate(45 422.3 375.9)"/>
<rect x="417.25" y="376.25" width="3.3" height="3.3" fill="#ff0000" transform="rotate(45 418.9 377.9)"/>
<rect x="421.95" y="376.95" width="3.3" height="3.3" fill="#ff0000" transform="rotate(45 423.6 378.6)"/>
<rect x="416.55" y="379.05" width="3.3" height="3.3" fill="#ff0000" transform="rotate(45 418.2 380.7)"/>
<rect x="419.25" y="379.65" width="3.3" height="3.3" fill="#ff0000" transform="rotate(45 420.9 381.3)"/>
<rect x="423.35" y="379.05" width="3.3" height="3.3" fill="#ff0000" transform="rotate(45 425 380.7)"/>
<rect x="417.85" y="382.45" width="3.3" height="3.3" fill="#ff0000" transform="rotate(45 419.5 384.1)"/>
<rect x="420.65" y="383.75" width="3.3" height="3.3" fill="#ff0000" transform="rotate(45 422.3 385.4)"/>
<rect x="424.65" y="384.45" width="3.3" height="3.3" fill="#ff0000" transform="rotate(45 426.3 386.1)"/>
<rect x="417.25" y="389.25" width="3.3" height="3.3" fill="#ff0000" transform="rotate(45 418.9 390.9)"/>
<rect x="423.35" y="392.65" width="3.3" height="3.3" fill="#ff0000" transform="rotate(45 425 394.3)"/>
<rect x="416.55" y="394.65" width="3.3" height="3.3" fill="#ff0000" transform="rotate(45 418.2 396.3)"/>
<rect x="419.25" y="395.35" width="3.3" height="3.3" fill="#ff0000" transform="rotate(45 420.9 397)"/>
<rect x="421.95" y="396.05" width="3.3" height="3.3" fill="#ff0000" transform="rotate(45 423.6 397.7)"/>
<rect x="424.05" y="398.05" width="3.3" height="3.3" fill="#ff0000" transform="rotate(45 425.7 399.7)"/>
<rect x="416.55" y="399.45" width="3.3" height="3.3" fill="#ff0000" transform="rotate(45 418.2 401.1)"/>
<rect x="420.65" y="400.15" width="3.3" height="3.3" fill="#ff0000" transform="rotate(45 422.3 401.8)"/>
<rect x="424.65" y="400.85" width="3.3" height="3.3" fill="#ff0000" transform="rotate(45 426.3 402.5)"/>
<rect x="427.45" y="404.25" width="3.3" height="3.3" fill="#ff0000" transform="rotate(45 429.1 405.9)"/>
<rect x="430.85" y="406.95" width="3.3" height="3.3" fill="#ff0000" transform="rotate(45 432.5 408.6)"/>
<rect x="432.15" y="408.25" width="3.3" height="3.3" fill="#ff0000" transform="rotate(45 433.8 409.9)"/>
<rect x="417.85" y="404.85" width="3.3" height="3.3" fill="#ff0000" transform="rotate(45 419.5 406.5)"/>
<rect x="421.95" y="404.25" width="3.3" height="3.3" fill="#ff0000" transform="rotate(45 423.6 405.9)"/>
<rect x="416.55" y="409.65" width="3.3" height="3.3" fill="#ff0000" transform="rotate(45 418.2 411.3)"/>
<rect x="420.65" y="410.35" width="3.3" height="3.3" fill="#ff0000" transform="rotate(45 422.3 412)"/>
<rect x="426.05" y="409.65" width="3.3" height="3.3" fill="#ff0000" transform="rotate(45 427.7 411.3)"/>
<rect x="428.75" y="409.65" width="3.3" height="3.3" fill="#ff0000" transform="rotate(45 430.4 411.3)"/>
<rect x="423.35" y="412.35" width="3.3" height="3.3" fill="#ff0000" transform="rotate(45 425 414)"/>
<rect x="427.45" y="413.75" width="3.3" height="3.3" fill="#ff0000" transform="rotate(45 429.1 415.4)"/>
<rect x="418.55" y="415.15" width="3.3" height="3.3" fill="#ff0000" transform="rotate(45 420.2 416.8)"/>
<rect x="421.95" y="417.15" width="3.3" height="3.3" fill="#ff0000" transform="rotate(45 423.6 418.8)"/>
<rect x="426.05" y="416.45" width="3.3" height="3.3" fill="#ff0000" transform="rotate(45 427.7 418.1)"/>
<rect x="416.55" y="420.55" width="3.3" height="3.3" fill="#ff0000" transform="rotate(45 418.2 422.2)"/>
<rect x="420.65" y="421.25" width="3.3" height="3.3" fill="#ff0000" transform="rotate(45 422.3 422.9)"/>
<rect x="424.05" y="419.85" width="3.3" height="3.3" fill="#ff0000" transform="rotate(45 425.7 421.5)"/>
<rect x="417.25" y="423.25" width="3.3" height="3.3" fill="#ff0000" transform="rotate(45 418.9 424.9)"/>
<rect x="419.95" y="425.95" width="3.3" height="3.3" fill="#ff0000" transform="rotate(45 421.6 427.6)"/>
<rect x="416.55" y="430.05" width="3.3" height="3.3" fill="#ff0000" transform="rotate(45 418.2 431.7)"/>
<rect x="417.25" y="431.45" width="3.3" height="3.3" fill="#ff0000" transform="rotate(45 418.9 433.1)"/>
<rect x="419.85" y="397.35" width="3.3" height="3.3" fill="#ff0000" transform="rotate(45 421.5 399)"/>
<rect x="425.85" y="402.35" width="3.3" height="3.3" fill="#ff0000" transform="rotate(45 427.5 404)"/>
<rect x="429.35" y="411.85" width="3.3" height="3.3" fill="#ff0000" transform="rotate(45 431 413.5)"/>
<rect x="418.85" y="407.35" width="3.3" height="3.3" fill="#ff0000" transform="rotate(45 420.5 409)"/>
<rect x="422.35" y="406.85" width="3.3" height="3.3" fill="#ff0000" transform="rotate(45 424 408.5)"/>
<rect x="419.35" y="418.35" width="3.3" height="3.3" fill="#ff0000" transform="rotate(45 421 420)"/>
<line x1="270.4" y1="359.95" x2="270.4" y2="478.15" stroke="#1a1a1a" stroke-width="1.1"/>
<line x1="269.85" y1="477.6" x2="466.4" y2="477.6" stroke="#1a1a1a" stroke-width="1.1"/>
<line x1="268" y1="454.3" x2="270.4" y2="454.3" stroke="#1a1a1a" stroke-width="1.1"/>
<text x="266.6" y="458.2" font-size="11.6" text-anchor="end">5</text>
<line x1="269.1" y1="430.85" x2="270.4" y2="430.85" stroke="#1a1a1a" stroke-width="1.1"/>
<line x1="268" y1="407.4" x2="270.4" y2="407.4" stroke="#1a1a1a" stroke-width="1.1"/>
<text x="266.6" y="411.3" font-size="11.6" text-anchor="end">10</text>
<line x1="269.1" y1="383.95" x2="270.4" y2="383.95" stroke="#1a1a1a" stroke-width="1.1"/>
<line x1="268" y1="360.5" x2="270.4" y2="360.5" stroke="#1a1a1a" stroke-width="1.1"/>
<text x="266.6" y="364.4" font-size="11.6" text-anchor="end">15</text>
<line x1="319.5" y1="477.6" x2="319.5" y2="479.8" stroke="#1a1a1a" stroke-width="1.1"/>
<line x1="417" y1="477.6" x2="417" y2="479.8" stroke="#1a1a1a" stroke-width="1.1"/>
<text transform="translate(250.3,418.5) rotate(-90)" font-size="11.6" text-anchor="middle">Range</text>
<text x="293.6" y="497.5" font-size="11.2" text-anchor="start">simulated values</text>
<text x="392.4" y="497.7" font-size="11.2" text-anchor="start">measured values</text>
<text x="318.8" y="526.2" font-size="11.1" text-anchor="start">f.Box plot of simulated and</text>
<text x="318.8" y="544.8" font-size="11.1" text-anchor="start">measured annual LST</text>
</svg>
</body></html>
